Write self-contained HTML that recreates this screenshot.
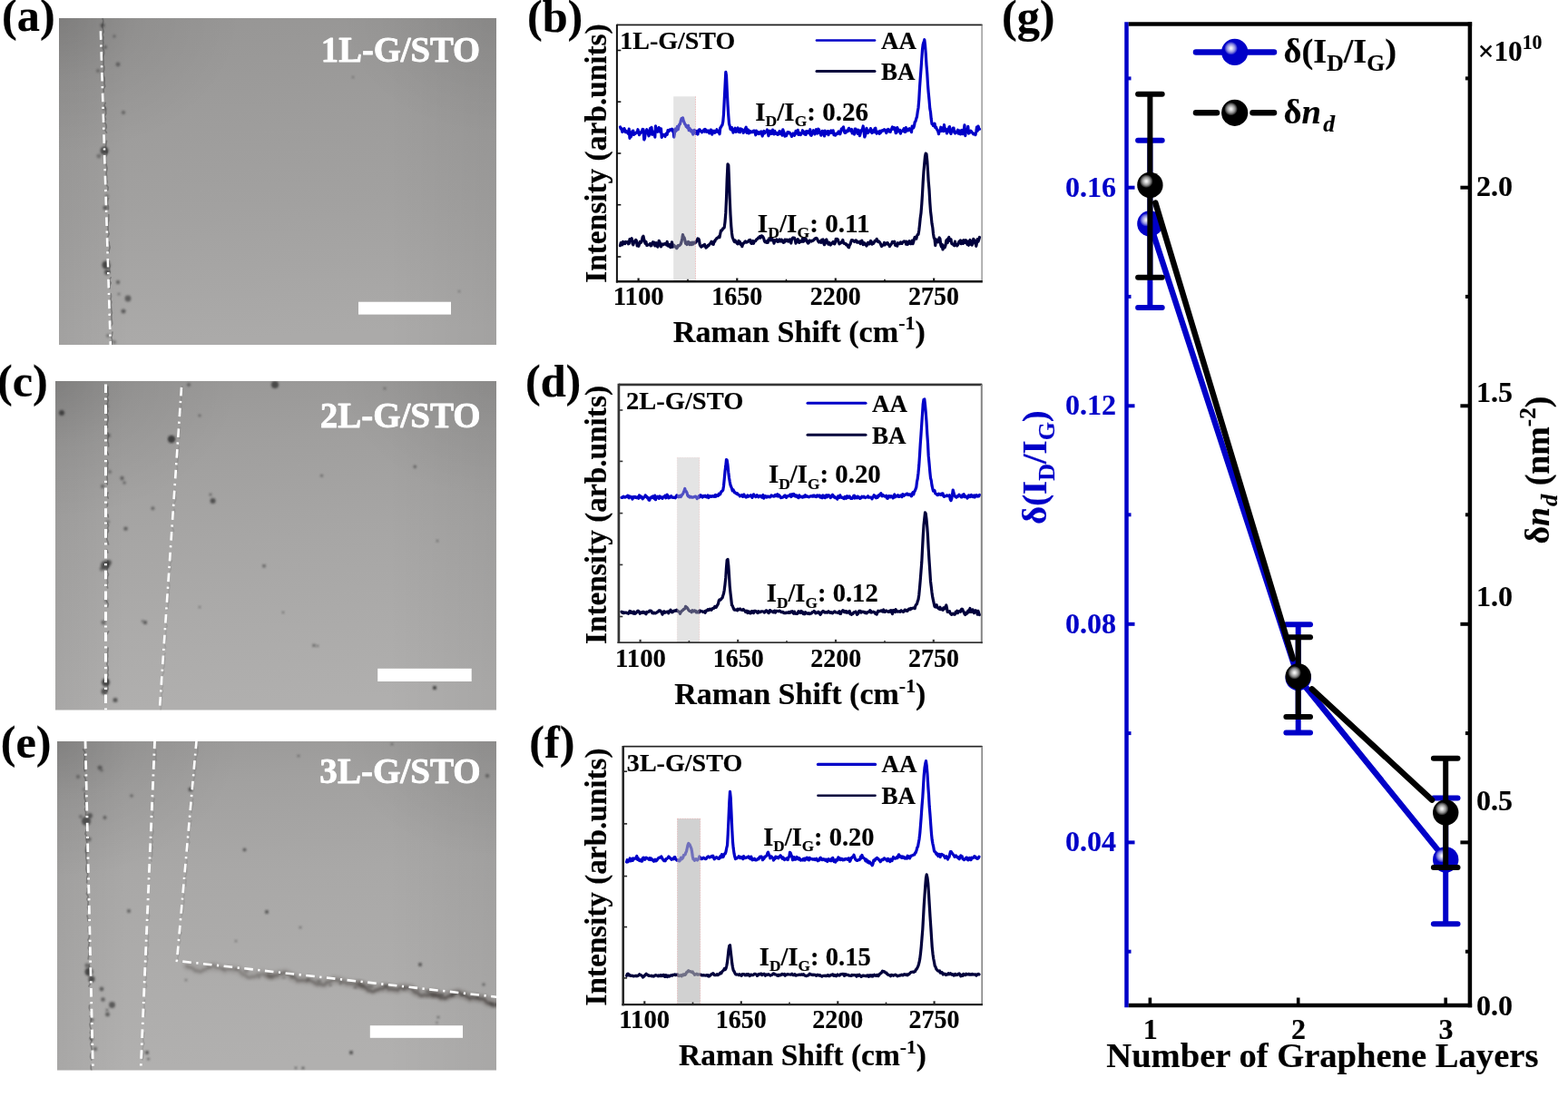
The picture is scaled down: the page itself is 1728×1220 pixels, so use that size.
<!DOCTYPE html>
<html lang="en"><head><meta charset="utf-8"><title>Figure</title>
<style>html,body{margin:0;padding:0;background:#fff;}body{width:1728px;height:1220px;overflow:hidden;}svg{display:block;}text{font-family:"Liberation Serif",serif;font-weight:bold;white-space:pre;stroke-width:0.18px;stroke-linejoin:round;paint-order:stroke fill;}</style>
</head><body>
<svg width="1728" height="1220" viewBox="0 0 1728 1220" role="img" aria-label="Figure: optical micrographs, Raman spectra and defect statistics of graphene on STO">
<defs>
<filter id="blur05" x="-50%" y="-50%" width="200%" height="200%"><feGaussianBlur stdDeviation="0.6"/></filter>
<filter id="blur1" x="-50%" y="-50%" width="200%" height="200%"><feGaussianBlur stdDeviation="0.9"/></filter>
<filter id="blur2" x="-50%" y="-50%" width="200%" height="200%"><feGaussianBlur stdDeviation="1.6"/></filter>
<linearGradient id="mga" x1="0" y1="0" x2="0.06" y2="1"><stop offset="0" stop-color="#979695"/><stop offset="0.3" stop-color="#9d9c9b"/><stop offset="0.6" stop-color="#a2a1a0"/><stop offset="1" stop-color="#abaaa9"/></linearGradient>
<radialGradient id="mca" cx="0" cy="0" r="0.42"><stop offset="0" stop-color="#000" stop-opacity="0.12"/><stop offset="0.45" stop-color="#000" stop-opacity="0.045"/><stop offset="1" stop-color="#000" stop-opacity="0"/></radialGradient>
<radialGradient id="mda" cx="1" cy="0" r="0.36"><stop offset="0" stop-color="#000" stop-opacity="0.06"/><stop offset="1" stop-color="#000" stop-opacity="0"/></radialGradient>
<linearGradient id="mva" x1="0" y1="0" x2="1" y2="0"><stop offset="0" stop-color="#000" stop-opacity="0.05"/><stop offset="0.16" stop-color="#000" stop-opacity="0.0"/><stop offset="0.75" stop-color="#000" stop-opacity="0.0"/><stop offset="1" stop-color="#000" stop-opacity="0.05"/></linearGradient>
<linearGradient id="mgc" x1="0" y1="0" x2="0.06" y2="1"><stop offset="0" stop-color="#999897"/><stop offset="0.2" stop-color="#a09f9e"/><stop offset="0.5" stop-color="#a7a6a5"/><stop offset="1" stop-color="#b0afae"/></linearGradient>
<radialGradient id="mcc" cx="0" cy="0" r="0.42"><stop offset="0" stop-color="#000" stop-opacity="0.12"/><stop offset="0.45" stop-color="#000" stop-opacity="0.045"/><stop offset="1" stop-color="#000" stop-opacity="0"/></radialGradient>
<radialGradient id="mdc" cx="1" cy="0" r="0.36"><stop offset="0" stop-color="#000" stop-opacity="0.06"/><stop offset="1" stop-color="#000" stop-opacity="0"/></radialGradient>
<linearGradient id="mvc" x1="0" y1="0" x2="1" y2="0"><stop offset="0" stop-color="#000" stop-opacity="0.05"/><stop offset="0.16" stop-color="#000" stop-opacity="0.0"/><stop offset="0.75" stop-color="#000" stop-opacity="0.0"/><stop offset="1" stop-color="#000" stop-opacity="0.05"/></linearGradient>
<linearGradient id="mge" x1="0" y1="0" x2="0.06" y2="1"><stop offset="0" stop-color="#9b9a99"/><stop offset="0.15" stop-color="#a2a1a0"/><stop offset="0.42" stop-color="#a9a8a7"/><stop offset="1" stop-color="#b1b0af"/></linearGradient>
<radialGradient id="mce" cx="0" cy="0" r="0.42"><stop offset="0" stop-color="#000" stop-opacity="0.12"/><stop offset="0.45" stop-color="#000" stop-opacity="0.045"/><stop offset="1" stop-color="#000" stop-opacity="0"/></radialGradient>
<radialGradient id="mde" cx="1" cy="0" r="0.36"><stop offset="0" stop-color="#000" stop-opacity="0.06"/><stop offset="1" stop-color="#000" stop-opacity="0"/></radialGradient>
<linearGradient id="mve" x1="0" y1="0" x2="1" y2="0"><stop offset="0" stop-color="#000" stop-opacity="0.05"/><stop offset="0.16" stop-color="#000" stop-opacity="0.0"/><stop offset="0.75" stop-color="#000" stop-opacity="0.0"/><stop offset="1" stop-color="#000" stop-opacity="0.05"/></linearGradient>
<clipPath id="clipa"><rect x="65" y="20" width="482" height="360"/></clipPath>
<clipPath id="clipc"><rect x="61" y="420" width="486" height="362.5"/></clipPath>
<clipPath id="clipe"><rect x="63" y="817" width="484" height="362.5"/></clipPath>
<radialGradient id="ballB" cx="0.5" cy="0.5" r="0.5" fx="0.36" fy="0.33"><stop offset="0" stop-color="#ffffff"/><stop offset="0.14" stop-color="#dcdcf6"/><stop offset="0.42" stop-color="#2a2ad0"/><stop offset="0.55" stop-color="#0000c8"/><stop offset="1" stop-color="#0000c8"/></radialGradient>
<radialGradient id="ballK" cx="0.5" cy="0.5" r="0.5" fx="0.36" fy="0.33"><stop offset="0" stop-color="#ffffff"/><stop offset="0.14" stop-color="#d4d4d4"/><stop offset="0.42" stop-color="#303030"/><stop offset="0.55" stop-color="#000"/><stop offset="1" stop-color="#000"/></radialGradient>
<radialGradient id="hlK" cx="0.5" cy="0.5" r="0.5"><stop offset="0" stop-color="#fafafa"/><stop offset="0.22" stop-color="#dedede"/><stop offset="0.62" stop-color="#8a8a8a"/><stop offset="0.85" stop-color="#3c3c3c"/><stop offset="1" stop-color="#000"/></radialGradient>
<radialGradient id="hlB" cx="0.5" cy="0.5" r="0.5"><stop offset="0" stop-color="#fafafe"/><stop offset="0.22" stop-color="#dedef6"/><stop offset="0.62" stop-color="#8a8ae2"/><stop offset="0.85" stop-color="#3c3cd2"/><stop offset="1" stop-color="#0000c8"/></radialGradient>
</defs>
<rect x="0" y="0" width="1728" height="1220" fill="#fff"/>
<text x="2.10" y="34.40" font-size="50.3" fill="#000" stroke="#000" text-anchor="start" >(a)</text>
<text x="580.90" y="35.20" font-size="50.3" fill="#000" stroke="#000" text-anchor="start" >(b)</text>
<text x="-3.00" y="436.50" font-size="50.3" fill="#000" stroke="#000" text-anchor="start" >(c)</text>
<text x="578.90" y="436.60" font-size="50.3" fill="#000" stroke="#000" text-anchor="start" >(d)</text>
<text x="0.80" y="834.50" font-size="50.3" fill="#000" stroke="#000" text-anchor="start" >(e)</text>
<text x="583.20" y="834.60" font-size="50.3" fill="#000" stroke="#000" text-anchor="start" >(f)</text>
<text x="1103.90" y="34.50" font-size="50.3" fill="#000" stroke="#000" text-anchor="start" >(g)</text>
<g>
<rect x="65" y="20" width="482" height="360" fill="url(#mga)"/>
<rect x="65" y="20" width="482" height="360" fill="url(#mva)"/>
<rect x="65" y="20" width="482" height="360" fill="url(#mca)"/>
<rect x="65" y="20" width="482" height="360" fill="url(#mda)"/>
<g clip-path="url(#clipa)">
<path d="M113.0,20.0 L113.8,23.0 L113.3,26.0 L112.5,29.0 L113.5,32.0 L114.2,35.0 L112.7,38.0 L114.0,41.1 L113.5,44.1 L113.9,47.1 L113.1,50.1 L113.4,53.1 L114.5,56.1 L114.7,59.1 L113.8,62.1 L113.9,65.1 L114.2,68.1 L114.0,71.1 L114.8,74.2 L114.6,77.2 L113.7,80.2 L113.8,83.2 L115.1,86.2 L115.2,89.2 L114.9,92.2 L115.8,95.2 L114.1,98.2 L114.3,101.2 M116.1,113.3 L115.0,116.3 L116.5,119.3 L116.6,122.3 L116.8,125.3 L115.1,128.3 L116.5,131.3 L115.3,134.3 L116.9,137.3 L117.2,140.3 L115.9,143.3 L117.5,146.3 M117.5,155.4 L117.0,158.4 L116.5,161.4 L117.2,164.4 L118.0,167.4 L117.6,170.4 L116.5,173.4 L116.6,176.4 L116.8,179.4 L117.4,182.5 L118.0,185.5 L117.5,188.5 L117.1,191.5 L117.6,194.5 L117.5,197.5 L118.1,200.5 L117.3,203.5 L119.3,206.5 L118.8,209.5 M119.5,218.6 L118.6,221.6 L118.4,224.6 L119.4,227.6 L119.4,230.6 M119.8,236.6 L119.8,239.6 L119.8,242.6 L119.0,245.6 L119.0,248.6 L119.1,251.6 L119.1,254.7 L120.2,257.7 L119.0,260.7 M120.1,266.7 L120.4,269.7 L121.2,272.7 L120.3,275.7 L119.7,278.7 M120.5,287.7 L119.9,290.8 L121.0,293.8 L120.5,296.8 L121.2,299.8 M122.1,305.8 L120.4,308.8 L122.2,311.8 L120.9,314.8 L121.0,317.8 M122.3,323.8 L122.5,326.8 L122.0,329.9 L122.9,332.9 L122.3,335.9 L122.6,338.9 L122.9,341.9 L123.4,344.9 L122.9,347.9 L122.9,350.9 L123.4,353.9 L123.7,356.9 L122.0,359.9 M123.9,366.0 L123.5,369.0 L122.8,372.0 L123.7,375.0 L123.2,378.0 L123.5,381.0" fill="none" stroke="#3a3a3a" stroke-width="1.7" opacity="0.38" stroke-linecap="round" stroke-linejoin="round" filter="url(#blur05)"/>
<circle cx="113" cy="28" r="2.5" fill="#2e2e2e" opacity="0.5" filter="url(#blur1)"/>
<circle cx="116" cy="52" r="2" fill="#2e2e2e" opacity="0.45" filter="url(#blur1)"/>
<circle cx="126" cy="40" r="1.8" fill="#2e2e2e" opacity="0.4" filter="url(#blur1)"/>
<circle cx="130" cy="71" r="2.4" fill="#2e2e2e" opacity="0.5" filter="url(#blur1)"/>
<circle cx="108" cy="78" r="2" fill="#2e2e2e" opacity="0.4" filter="url(#blur1)"/>
<circle cx="115" cy="120" r="2" fill="#2e2e2e" opacity="0.35" filter="url(#blur1)"/>
<circle cx="136" cy="124" r="2" fill="#2e2e2e" opacity="0.5" filter="url(#blur1)"/>
<circle cx="115" cy="166" r="4.5" fill="#2e2e2e" opacity="0.75" filter="url(#blur1)"/>
<circle cx="109" cy="172" r="2.5" fill="#2e2e2e" opacity="0.4" filter="url(#blur1)"/>
<circle cx="118" cy="216" r="2" fill="#2e2e2e" opacity="0.4" filter="url(#blur1)"/>
<circle cx="116" cy="229" r="2.5" fill="#2e2e2e" opacity="0.6" filter="url(#blur1)"/>
<circle cx="117" cy="292" r="4.5" fill="#2e2e2e" opacity="0.8" filter="url(#blur1)"/>
<circle cx="118" cy="300" r="3" fill="#2e2e2e" opacity="0.7" filter="url(#blur1)"/>
<circle cx="130" cy="311" r="2.2" fill="#2e2e2e" opacity="0.55" filter="url(#blur1)"/>
<circle cx="141" cy="329" r="3.4" fill="#2e2e2e" opacity="0.6" filter="url(#blur1)"/>
<circle cx="136" cy="343" r="2.5" fill="#2e2e2e" opacity="0.6" filter="url(#blur1)"/>
<circle cx="131" cy="324" r="1.6" fill="#2e2e2e" opacity="0.4" filter="url(#blur1)"/>
<circle cx="119" cy="370" r="2" fill="#2e2e2e" opacity="0.4" filter="url(#blur1)"/>
<circle cx="126" cy="377" r="2" fill="#2e2e2e" opacity="0.4" filter="url(#blur1)"/>
<circle cx="389" cy="85" r="1.5" fill="#2e2e2e" opacity="0.3" filter="url(#blur1)"/>
<circle cx="506" cy="321" r="1.5" fill="#2e2e2e" opacity="0.3" filter="url(#blur1)"/>
<path d="M110.9,34.3 L121.8,381.0" fill="none" stroke="#fff" stroke-width="2.6" stroke-dasharray="9.6 5.5 2.2 5.5"/>
</g>
<rect x="395" y="332.7" width="102.0" height="13.9" fill="#fff"/>
<text x="353.86" y="68.30" font-size="40" fill="#fff" stroke="#fff" textLength="175.28" lengthAdjust="spacingAndGlyphs" style="stroke-width:0.8px">1L-G/STO</text>
</g>
<g>
<rect x="61" y="420" width="486" height="362.5" fill="url(#mgc)"/>
<rect x="61" y="420" width="486" height="362.5" fill="url(#mvc)"/>
<rect x="61" y="420" width="486" height="362.5" fill="url(#mcc)"/>
<rect x="61" y="420" width="486" height="362.5" fill="url(#mdc)"/>
<g clip-path="url(#clipc)">
<path d="M118.9,426.0 L118.9,429.0 L118.8,432.0 L119.5,435.0 L118.2,438.0 L119.3,441.0 L118.6,444.0 L118.1,447.0 L118.0,450.0 L119.0,453.0 L117.9,456.0 L119.1,459.0 L119.2,462.0 L118.5,465.0 L118.1,468.0 L118.6,471.0 M119.0,477.0 L119.6,480.0 L119.0,483.0 L118.5,486.0 L119.5,489.0 L119.6,492.0 M118.0,498.0 L119.4,501.0 M118.1,507.0 L119.0,510.0 L118.5,513.0 L118.7,516.0 L117.9,519.0 L118.0,522.0 L118.0,525.0 L118.3,528.0 L118.2,531.0 L118.3,534.0 M119.0,543.0 L117.9,546.0 L119.3,549.0 M118.6,555.0 L118.3,558.0 M119.0,567.0 L119.4,570.0 M117.8,576.0 L119.6,579.0 L118.6,582.0 L119.5,585.0 L118.0,588.0 L118.2,591.0 L117.7,594.0 L118.8,597.0 L119.6,600.0 M117.8,606.0 L118.8,609.0 M118.8,618.0 L119.1,621.0 L119.2,624.0 L118.0,627.0 L118.1,630.0 L119.5,633.0 L118.4,636.0 L118.4,639.0 L118.7,642.0 L117.9,645.0 L118.7,648.0 M117.8,663.0 L119.4,666.0 L118.6,669.0 M119.6,696.0 L117.7,699.0 M119.1,714.0 L118.9,717.0 L118.5,720.0 L118.8,723.0 L118.3,726.0 L118.7,729.0 L117.9,732.0 L119.1,735.0 L119.3,738.0 L118.6,741.0 L119.4,744.0 L118.3,747.0 L119.3,750.0 L119.0,753.0 L118.5,756.0 L119.4,759.0 L117.7,762.0" fill="none" stroke="#3a3a3a" stroke-width="1.7" opacity="0.4" stroke-linecap="round" stroke-linejoin="round" filter="url(#blur05)"/><path d="M200.7,426.0 L201.3,429.0 M199.9,435.0 L199.9,438.0 L199.7,441.0 L199.3,444.0 L199.7,447.0 L199.5,450.0 L200.1,453.0 M198.7,471.0 L198.0,474.0 L197.7,477.0 L196.9,480.0 L198.1,483.0 M197.3,492.0 L196.8,495.0 L197.1,498.0 L195.4,501.0 L196.3,504.0 L196.0,507.0 L195.4,510.0 L195.2,513.0 L195.4,516.0 L195.4,519.0 M192.8,540.0 L194.2,543.0 L193.1,546.0 L193.8,549.0 L193.3,552.0 L192.1,555.0 M192.1,561.0 L192.6,564.0 M190.3,582.0 L191.6,585.0 L189.6,588.0 M189.3,618.0 L187.8,621.0 L187.6,624.0 L188.3,627.0 L187.1,630.0 M186.2,642.0 L186.9,645.0 L186.8,648.0 L186.1,651.0 L186.3,654.0 L185.6,657.0 L185.9,660.0 L186.3,663.0 L185.2,666.0 L185.2,669.0 L184.0,672.0 M183.8,684.0 L183.0,687.0 L184.3,690.0 L182.4,693.0 L182.9,696.0 L182.5,699.0 L183.4,702.0 L182.9,705.0 L181.9,708.0 L181.7,711.0 L182.7,714.0 M182.1,720.0 L180.8,723.0 L181.7,726.0 L181.1,729.0 L181.2,732.0 L180.9,735.0 L179.6,738.0 L180.6,741.0 L179.1,744.0 L179.0,747.0 L178.8,750.0 M179.6,756.0 L178.4,759.0 L179.4,762.0 L178.0,765.0 L178.4,768.0 L177.4,771.0 L177.7,774.0 L177.8,777.0 L177.4,780.0 L177.1,783.0" fill="none" stroke="#3a3a3a" stroke-width="1.7" opacity="0.12" stroke-linecap="round" stroke-linejoin="round" filter="url(#blur05)"/>
<circle cx="68" cy="455" r="3" fill="#2e2e2e" opacity="0.8" filter="url(#blur1)"/>
<circle cx="189" cy="484" r="4.2" fill="#2e2e2e" opacity="0.85" filter="url(#blur1)"/>
<circle cx="303" cy="424" r="4" fill="#2e2e2e" opacity="0.75" filter="url(#blur1)"/>
<circle cx="234.6" cy="552" r="3" fill="#2e2e2e" opacity="0.7" filter="url(#blur1)"/>
<circle cx="232" cy="545" r="1.6" fill="#2e2e2e" opacity="0.5" filter="url(#blur1)"/>
<circle cx="134.5" cy="527" r="2.2" fill="#2e2e2e" opacity="0.55" filter="url(#blur1)"/>
<circle cx="137" cy="532" r="1.8" fill="#2e2e2e" opacity="0.5" filter="url(#blur1)"/>
<circle cx="138.5" cy="582.6" r="2.2" fill="#2e2e2e" opacity="0.6" filter="url(#blur1)"/>
<circle cx="168.4" cy="560.3" r="2" fill="#2e2e2e" opacity="0.5" filter="url(#blur1)"/>
<circle cx="116" cy="623" r="5" fill="#2e2e2e" opacity="0.7" filter="url(#blur1)"/>
<circle cx="120" cy="620" r="3" fill="#2e2e2e" opacity="0.6" filter="url(#blur1)"/>
<circle cx="112" cy="627" r="2.5" fill="#2e2e2e" opacity="0.4" filter="url(#blur1)"/>
<circle cx="116.5" cy="752" r="4.5" fill="#2e2e2e" opacity="0.8" filter="url(#blur1)"/>
<circle cx="115" cy="762" r="3.5" fill="#2e2e2e" opacity="0.7" filter="url(#blur1)"/>
<circle cx="127" cy="771.4" r="2.5" fill="#2e2e2e" opacity="0.7" filter="url(#blur1)"/>
<circle cx="160" cy="686" r="2.2" fill="#2e2e2e" opacity="0.6" filter="url(#blur1)"/>
<circle cx="157" cy="684.5" r="1.5" fill="#2e2e2e" opacity="0.4" filter="url(#blur1)"/>
<circle cx="291" cy="623.7" r="2" fill="#2e2e2e" opacity="0.5" filter="url(#blur1)"/>
<circle cx="479" cy="758" r="2.2" fill="#2e2e2e" opacity="0.8" filter="url(#blur1)"/>
<circle cx="346" cy="711.4" r="1.8" fill="#2e2e2e" opacity="0.5" filter="url(#blur1)"/>
<circle cx="350" cy="712" r="1.4" fill="#2e2e2e" opacity="0.4" filter="url(#blur1)"/>
<circle cx="457.3" cy="514.4" r="1.8" fill="#2e2e2e" opacity="0.5" filter="url(#blur1)"/>
<circle cx="354.5" cy="524.2" r="1.6" fill="#2e2e2e" opacity="0.45" filter="url(#blur1)"/>
<circle cx="208" cy="424" r="2" fill="#2e2e2e" opacity="0.5" filter="url(#blur1)"/>
<circle cx="120" cy="480" r="2.2" fill="#2e2e2e" opacity="0.4" filter="url(#blur1)"/>
<circle cx="121" cy="520" r="2" fill="#2e2e2e" opacity="0.4" filter="url(#blur1)"/>
<circle cx="118" cy="448" r="2" fill="#2e2e2e" opacity="0.4" filter="url(#blur1)"/>
<circle cx="113" cy="536" r="2.2" fill="#2e2e2e" opacity="0.45" filter="url(#blur1)"/>
<circle cx="119" cy="575" r="2" fill="#2e2e2e" opacity="0.4" filter="url(#blur1)"/>
<circle cx="114" cy="686" r="2.5" fill="#2e2e2e" opacity="0.5" filter="url(#blur1)"/>
<circle cx="117" cy="662" r="2" fill="#2e2e2e" opacity="0.4" filter="url(#blur1)"/>
<circle cx="220" cy="458" r="1.8" fill="#2e2e2e" opacity="0.4" filter="url(#blur1)"/>
<circle cx="482" cy="596" r="1.5" fill="#2e2e2e" opacity="0.4" filter="url(#blur1)"/>
<circle cx="312" cy="675" r="1.4" fill="#2e2e2e" opacity="0.4" filter="url(#blur1)"/>
<circle cx="220" cy="669" r="1.5" fill="#2e2e2e" opacity="0.35" filter="url(#blur1)"/>
<circle cx="424" cy="428" r="1.6" fill="#2e2e2e" opacity="0.4" filter="url(#blur1)"/>
<path d="M116.5,423.5 L116.5,784.0" fill="none" stroke="#fff" stroke-width="3.0" stroke-dasharray="9.6 5.5 2.2 5.5"/>
<path d="M200.0,426.8 L175.8,783.0" fill="none" stroke="#fff" stroke-width="2.6" stroke-dasharray="9.6 5.5 2.2 5.5"/>
</g>
<rect x="416.2" y="736.8" width="103.5" height="14.2" fill="#fff"/>
<text x="352.76" y="470.80" font-size="40" fill="#fff" stroke="#fff" textLength="176.88" lengthAdjust="spacingAndGlyphs" style="stroke-width:0.8px">2L-G/STO</text>
</g>
<g>
<rect x="63" y="817" width="484" height="362.5" fill="url(#mge)"/>
<rect x="63" y="817" width="484" height="362.5" fill="url(#mve)"/>
<rect x="63" y="817" width="484" height="362.5" fill="url(#mce)"/>
<rect x="63" y="817" width="484" height="362.5" fill="url(#mde)"/>
<g clip-path="url(#clipe)">
<path d="M206.0,1064.2 L208.0,1065.2 L210.0,1065.1 L212.0,1065.9 L214.0,1067.0 L216.0,1068.6 L218.0,1068.1 L220.0,1069.2 L222.0,1068.9 L224.0,1067.6 L226.0,1067.5 L228.0,1066.5 L230.0,1065.8 L232.0,1066.2 L234.0,1064.5 L236.0,1064.5 L238.0,1066.4 L240.0,1066.1 L242.0,1066.4 L244.0,1067.2 L246.0,1067.7 L248.0,1068.9 L250.0,1067.7 L252.0,1067.6 L254.0,1068.0 L256.0,1067.8 L258.0,1068.6 L260.0,1068.8 L262.0,1068.7 L264.0,1069.5 L266.0,1071.7 L268.0,1073.2 L270.0,1072.8 L272.0,1074.8 L274.0,1075.6 L276.0,1075.5 L278.0,1074.7 L280.0,1075.3 L282.0,1074.7 L284.0,1073.4 L286.0,1073.8 L288.0,1073.0 L290.0,1072.9 L292.0,1073.7 L294.0,1074.2 L296.0,1074.8 L298.0,1075.5 L300.0,1075.9" fill="none" stroke="#5e5855" stroke-width="10" opacity="0.15" stroke-linecap="round" stroke-linejoin="round" filter="url(#blur2)"/>
<path d="M206.0,1064.8 L208.0,1065.9 L210.0,1066.0 L212.0,1067.1 L214.0,1068.4 L216.0,1070.1 L218.0,1069.7 L220.0,1070.8 L222.0,1070.4 L224.0,1068.8 L226.0,1068.4 L228.0,1067.1 L230.0,1066.0 L232.0,1066.2 L234.0,1064.4 L236.0,1064.4 L238.0,1066.3 L240.0,1066.2 L242.0,1066.6 L244.0,1067.5 L246.0,1068.1 L248.0,1069.3 L250.0,1068.0 L252.0,1067.8 L254.0,1068.1 L256.0,1067.8 L258.0,1068.5 L260.0,1068.8 L262.0,1068.9 L264.0,1069.8 L266.0,1072.3 L268.0,1074.2 L270.0,1074.1 L272.0,1076.3 L274.0,1077.2 L276.0,1077.1 L278.0,1076.2 L280.0,1076.6 L282.0,1075.8 L284.0,1074.3 L286.0,1074.5 L288.0,1073.7 L290.0,1073.5 L292.0,1074.4 L294.0,1074.9 L296.0,1075.5 L298.0,1076.3 L300.0,1076.7" fill="none" stroke="#4a4542" stroke-width="3.6" opacity="0.28" stroke-linecap="round" stroke-linejoin="round" filter="url(#blur1)"/>
<path d="M296.0,1074.7 L298.0,1075.6 L300.0,1074.8 L302.0,1074.6 L304.0,1074.4 L306.0,1074.7 L308.0,1073.1 L310.0,1073.5 L312.0,1073.1 L314.0,1072.3 L316.0,1073.3 L318.0,1074.0 L320.0,1074.9 L322.0,1077.0 L324.0,1076.7 L326.0,1077.6 L328.0,1079.8 L330.0,1079.4 L332.0,1079.3 L334.0,1079.5 L336.0,1079.5 L338.0,1080.4 L340.0,1079.3 L342.0,1079.7 L344.0,1080.8 L346.0,1081.5 L348.0,1082.9 L350.0,1083.5 L352.0,1083.2 L354.0,1083.2 L356.0,1084.1 L358.0,1084.0 L360.0,1081.8 L362.0,1082.1 L364.0,1081.5 L366.0,1080.5 L368.0,1079.5 L370.0,1080.4 L372.0,1080.6 L374.0,1080.4 L376.0,1081.8 L378.0,1081.9 L380.0,1082.3 L382.0,1083.2 L384.0,1083.4 L386.0,1083.6 L388.0,1083.9 L390.0,1084.1 L392.0,1084.3 L394.0,1084.6 L396.0,1085.2 L398.0,1085.7 L400.0,1086.0" fill="none" stroke="#5e5855" stroke-width="10" opacity="0.22" stroke-linecap="round" stroke-linejoin="round" filter="url(#blur2)"/>
<path d="M296.0,1075.5 L298.0,1076.4 L300.0,1075.6 L302.0,1075.3 L304.0,1074.9 L306.0,1074.9 L308.0,1073.1 L310.0,1073.3 L312.0,1072.7 L314.0,1071.8 L316.0,1072.9 L318.0,1073.7 L320.0,1074.9 L322.0,1077.3 L324.0,1077.3 L326.0,1078.4 L328.0,1080.8 L330.0,1080.5 L332.0,1080.3 L334.0,1080.5 L336.0,1080.4 L338.0,1081.2 L340.0,1080.1 L342.0,1080.4 L344.0,1081.7 L346.0,1082.5 L348.0,1084.1 L350.0,1084.8 L352.0,1084.7 L354.0,1084.7 L356.0,1085.5 L358.0,1085.1 L360.0,1082.6 L362.0,1082.6 L364.0,1081.8 L366.0,1080.5 L368.0,1079.3 L370.0,1080.1 L372.0,1080.4 L374.0,1080.2 L376.0,1081.8 L378.0,1082.1 L380.0,1082.6 L382.0,1083.6 L384.0,1083.8 L386.0,1083.9 L388.0,1084.1 L390.0,1084.3 L392.0,1084.5 L394.0,1084.8 L396.0,1085.4 L398.0,1086.2 L400.0,1086.7" fill="none" stroke="#4a4542" stroke-width="3.6" opacity="0.40" stroke-linecap="round" stroke-linejoin="round" filter="url(#blur1)"/>
<path d="M396.0,1084.3 L398.0,1085.6 L400.0,1085.8 L402.0,1086.9 L404.0,1088.2 L406.0,1090.1 L408.0,1089.8 L410.0,1091.0 L412.0,1090.9 L414.0,1089.7 L416.0,1089.8 L418.0,1089.0 L420.0,1088.5 L422.0,1089.1 L424.0,1087.6 L426.0,1087.7 L428.0,1089.5 L430.0,1089.2 L432.0,1089.3 L434.0,1089.8 L436.0,1089.9 L438.0,1090.6 L440.0,1089.1 L442.0,1088.6 L444.0,1088.7 L446.0,1088.3 L448.0,1088.9 L450.0,1089.1 L452.0,1089.0 L454.0,1089.7 L456.0,1091.9 L458.0,1093.4 L460.0,1093.0 L462.0,1095.0 L464.0,1095.9 L466.0,1095.8 L468.0,1095.2 L470.0,1096.0 L472.0,1095.7 L474.0,1094.8 L476.0,1095.6 L478.0,1095.2 L480.0,1095.5" fill="none" stroke="#5e5855" stroke-width="10" opacity="0.29" stroke-linecap="round" stroke-linejoin="round" filter="url(#blur2)"/>
<path d="M396.0,1084.5 L398.0,1086.0 L400.0,1086.4 L402.0,1087.9 L404.0,1089.5 L406.0,1091.6 L408.0,1091.4 L410.0,1092.7 L412.0,1092.5 L414.0,1091.1 L416.0,1090.9 L418.0,1090.0 L420.0,1089.2 L422.0,1089.6 L424.0,1088.0 L426.0,1088.1 L428.0,1090.0 L430.0,1089.7 L432.0,1089.9 L434.0,1090.4 L436.0,1090.5 L438.0,1091.1 L440.0,1089.3 L442.0,1088.6 L444.0,1088.5 L446.0,1088.0 L448.0,1088.5 L450.0,1088.6 L452.0,1088.7 L454.0,1089.7 L456.0,1092.2 L458.0,1094.0 L460.0,1093.8 L462.0,1096.1 L464.0,1097.1 L466.0,1097.1 L468.0,1096.4 L470.0,1097.1 L472.0,1096.7 L474.0,1095.6 L476.0,1096.4 L478.0,1096.1 L480.0,1096.4" fill="none" stroke="#4a4542" stroke-width="3.6" opacity="0.52" stroke-linecap="round" stroke-linejoin="round" filter="url(#blur1)"/>
<path d="M476.0,1095.2 L478.0,1096.0 L480.0,1095.6 L482.0,1096.2 L484.0,1097.1 L486.0,1098.5 L488.0,1097.8 L490.0,1098.8 L492.0,1098.4 L494.0,1097.0 L496.0,1096.8 L498.0,1095.9 L500.0,1095.1 L502.0,1095.6 L504.0,1094.1 L506.0,1094.2 L508.0,1096.2 L510.0,1096.2 L512.0,1096.7 L514.0,1097.8 L516.0,1098.5 L518.0,1099.9 L520.0,1099.0 L522.0,1099.0 L524.0,1099.6 L526.0,1099.5 L528.0,1100.3 L530.0,1100.5 L532.0,1100.4 L534.0,1101.1 L536.0,1103.2 L538.0,1104.5 L540.0,1103.9 L542.0,1105.8 L544.0,1106.4 L546.0,1106.1 L548.0,1105.1" fill="none" stroke="#5e5855" stroke-width="10" opacity="0.34" stroke-linecap="round" stroke-linejoin="round" filter="url(#blur2)"/>
<path d="M476.0,1096.0 L478.0,1096.8 L480.0,1096.5 L482.0,1097.3 L484.0,1098.3 L486.0,1099.8 L488.0,1099.2 L490.0,1100.1 L492.0,1099.5 L494.0,1097.8 L496.0,1097.4 L498.0,1096.1 L500.0,1095.1 L502.0,1095.4 L504.0,1093.7 L506.0,1093.8 L508.0,1096.0 L510.0,1096.1 L512.0,1096.8 L514.0,1098.1 L516.0,1099.0 L518.0,1100.5 L520.0,1099.5 L522.0,1099.5 L524.0,1100.0 L526.0,1099.8 L528.0,1100.6 L530.0,1100.9 L532.0,1100.9 L534.0,1101.8 L536.0,1104.1 L538.0,1105.7 L540.0,1105.4 L542.0,1107.5 L544.0,1108.1 L546.0,1107.8 L548.0,1106.6" fill="none" stroke="#4a4542" stroke-width="3.6" opacity="0.62" stroke-linecap="round" stroke-linejoin="round" filter="url(#blur1)"/>
<ellipse cx="230.0" cy="1066.1" rx="1.9" ry="1.7" fill="#3e3a38" opacity="0.14" filter="url(#blur1)"/>
<ellipse cx="246.0" cy="1068.2" rx="1.6" ry="1.5" fill="#3e3a38" opacity="0.15" filter="url(#blur1)"/>
<ellipse cx="260.6" cy="1067.8" rx="1.7" ry="1.4" fill="#3e3a38" opacity="0.28" filter="url(#blur1)"/>
<ellipse cx="271.2" cy="1070.1" rx="3.1" ry="2.1" fill="#3e3a38" opacity="0.25" filter="url(#blur1)"/>
<ellipse cx="285.4" cy="1077.0" rx="1.6" ry="2.0" fill="#3e3a38" opacity="0.22" filter="url(#blur1)"/>
<ellipse cx="296.2" cy="1072.2" rx="2.3" ry="1.9" fill="#3e3a38" opacity="0.22" filter="url(#blur1)"/>
<ellipse cx="312.8" cy="1077.7" rx="2.4" ry="1.6" fill="#3e3a38" opacity="0.22" filter="url(#blur1)"/>
<ellipse cx="322.6" cy="1075.8" rx="3.2" ry="1.4" fill="#3e3a38" opacity="0.27" filter="url(#blur1)"/>
<ellipse cx="339.2" cy="1079.4" rx="2.2" ry="1.9" fill="#3e3a38" opacity="0.34" filter="url(#blur1)"/>
<ellipse cx="351.4" cy="1081.6" rx="2.8" ry="2.0" fill="#3e3a38" opacity="0.36" filter="url(#blur1)"/>
<ellipse cx="364.1" cy="1085.9" rx="1.8" ry="1.4" fill="#3e3a38" opacity="0.37" filter="url(#blur1)"/>
<ellipse cx="375.1" cy="1083.7" rx="1.6" ry="1.7" fill="#3e3a38" opacity="0.39" filter="url(#blur1)"/>
<ellipse cx="391.5" cy="1088.2" rx="2.3" ry="1.8" fill="#3e3a38" opacity="0.38" filter="url(#blur1)"/>
<ellipse cx="408.1" cy="1087.2" rx="3.6" ry="2.1" fill="#3e3a38" opacity="0.38" filter="url(#blur1)"/>
<ellipse cx="425.7" cy="1086.4" rx="3.3" ry="1.7" fill="#3e3a38" opacity="0.47" filter="url(#blur1)"/>
<ellipse cx="445.4" cy="1090.2" rx="2.5" ry="1.7" fill="#3e3a38" opacity="0.35" filter="url(#blur1)"/>
<ellipse cx="460.4" cy="1091.1" rx="1.8" ry="0.9" fill="#3e3a38" opacity="0.47" filter="url(#blur1)"/>
<ellipse cx="471.1" cy="1092.8" rx="2.5" ry="2.0" fill="#3e3a38" opacity="0.38" filter="url(#blur1)"/>
<ellipse cx="485.9" cy="1096.6" rx="3.7" ry="1.9" fill="#3e3a38" opacity="0.51" filter="url(#blur1)"/>
<ellipse cx="498.5" cy="1097.1" rx="2.4" ry="2.0" fill="#3e3a38" opacity="0.54" filter="url(#blur1)"/>
<ellipse cx="509.5" cy="1096.7" rx="2.1" ry="1.1" fill="#3e3a38" opacity="0.48" filter="url(#blur1)"/>
<ellipse cx="526.2" cy="1099.2" rx="1.5" ry="1.4" fill="#3e3a38" opacity="0.48" filter="url(#blur1)"/>
<ellipse cx="542.5" cy="1105.9" rx="3.2" ry="1.5" fill="#3e3a38" opacity="0.54" filter="url(#blur1)"/><path d="M91.7,826.0 L93.6,829.0 L93.2,832.0 L93.2,835.0 L92.8,838.0 L93.3,841.0 L93.1,844.0 L92.7,847.0 L93.4,850.0 M92.9,856.0 L94.3,859.0 L94.5,862.0 L94.3,865.0 L94.0,868.0 M93.2,874.0 L93.0,877.0 L93.2,880.0 L94.3,883.0 L93.4,886.0 L94.8,889.0 L93.4,892.0 L94.6,895.0 L94.4,898.0 M94.6,907.0 L95.1,910.0 L95.6,913.0 L94.8,916.0 L94.0,919.0 L95.6,922.0 L95.1,925.0 L95.8,928.0 L95.5,931.0 L94.5,934.0 L94.6,937.0 L94.8,940.0 L94.9,943.0 L94.9,946.0 L95.6,949.0 L95.7,952.0 L95.1,955.0 L94.9,958.0 L95.6,961.0 L96.8,964.0 L95.8,967.0 L95.8,970.0 L95.7,973.0 M96.2,979.0 L96.4,982.0 L95.4,985.0 L97.2,988.0 L95.9,991.0 L97.2,994.0 L97.0,997.0 L96.6,1000.0 L97.4,1003.0 M96.1,1009.0 L96.7,1012.0 L97.0,1015.0 M97.5,1021.0 L97.4,1024.0 L97.5,1027.0 L98.3,1030.0 L98.3,1033.0 L97.0,1036.0 L98.3,1039.0 L97.9,1042.0 L97.3,1045.0 L98.7,1048.0 L98.3,1051.0 L97.6,1054.0 L97.2,1057.0 M98.3,1063.0 L98.1,1066.0 L98.2,1069.0 L99.1,1072.0 L99.4,1075.0 M98.5,1081.0 L99.5,1084.0 L97.9,1087.0 M98.5,1108.0 L98.3,1111.0 L99.4,1114.0 M99.1,1120.0 L100.4,1123.0 L100.0,1126.0 L99.0,1129.0 L99.5,1132.0 L100.6,1135.0 L99.4,1138.0 L100.5,1141.0 L99.2,1144.0 L101.1,1147.0 L99.8,1150.0 L100.5,1153.0 L101.0,1156.0 L101.3,1159.0 L99.9,1162.0 L99.6,1165.0 L100.8,1168.0 M100.4,1174.0 L100.2,1177.0 L100.9,1180.0" fill="none" stroke="#3a3a3a" stroke-width="1.7" opacity="0.38" stroke-linecap="round" stroke-linejoin="round" filter="url(#blur05)"/><path d="M171.7,826.0 L171.6,829.0 L172.1,832.0 L171.5,835.0 L172.3,838.0 M170.1,880.0 L169.4,883.0 L169.0,886.0 M169.2,895.0 L168.3,898.0 L169.5,901.0 M167.8,913.0 L169.0,916.0 L168.6,919.0 L167.2,922.0 L167.3,925.0 L168.4,928.0 L166.7,931.0 L168.4,934.0 L167.5,937.0 L167.8,940.0 L167.7,943.0 L165.9,946.0 L167.1,949.0 M165.4,967.0 L165.0,970.0 M163.5,1003.0 L163.7,1006.0 L164.6,1009.0 L163.9,1012.0 L163.8,1015.0 M163.4,1030.0 L163.6,1033.0 L163.0,1036.0 L163.2,1039.0 L163.7,1042.0 L162.5,1045.0 L162.5,1048.0 L163.3,1051.0 L161.6,1054.0 L162.9,1057.0 L161.9,1060.0 L161.7,1063.0 L161.3,1066.0 L160.7,1069.0 L161.3,1072.0 L160.8,1075.0 L161.4,1078.0 L160.1,1081.0 L160.9,1084.0 L161.7,1087.0 L160.3,1090.0 M159.5,1102.0 L159.3,1105.0 L159.0,1108.0 L159.1,1111.0 L160.2,1114.0 L159.4,1117.0 L159.0,1120.0 M159.0,1138.0 L158.4,1141.0 L157.7,1144.0 L158.0,1147.0 L158.8,1150.0 L157.7,1153.0 L157.2,1156.0 L158.5,1159.0 L158.1,1162.0 L157.6,1165.0 L156.9,1168.0" fill="none" stroke="#3a3a3a" stroke-width="1.7" opacity="0.14" stroke-linecap="round" stroke-linejoin="round" filter="url(#blur05)"/><path d="M218.2,823.0 L217.9,826.0 L218.0,829.0 L217.1,832.1 L216.0,835.1 L215.8,838.1 L215.6,841.1 L215.5,844.1 L215.9,847.1 L214.5,850.1 L215.0,853.1 L214.4,856.2 L213.6,859.2 M213.2,865.2 L213.0,868.2 M212.7,880.3 L212.2,883.3 L212.6,886.3 L211.8,889.3 L210.5,892.3 L211.1,895.3 M210.7,904.4 L209.4,907.4 L210.3,910.4 M208.7,916.4 L208.5,919.4 L208.7,922.4 L207.9,925.5 L209.0,928.5 L207.1,931.5 L206.8,934.5 L207.7,937.5 M205.5,946.5 L206.3,949.5 L205.7,952.6 L205.3,955.6 L205.7,958.6 L205.6,961.6 L205.0,964.6 L203.7,967.6 L205.1,970.6 L204.7,973.6 L204.5,976.7 M203.0,985.7 L202.4,988.7 L202.6,991.7 L202.9,994.7 L202.0,997.8 L201.7,1000.8 L201.6,1003.8 L200.7,1006.8 L200.2,1009.8 M200.1,1027.9 L198.6,1030.9 L197.9,1033.9 L198.8,1036.9 L198.0,1039.9 M197.2,1052.0 L195.9,1055.0 L196.2,1058.0" fill="none" stroke="#3a3a3a" stroke-width="1.7" opacity="0.12" stroke-linecap="round" stroke-linejoin="round" filter="url(#blur05)"/>
<circle cx="95" cy="905" r="5" fill="#2e2e2e" opacity="0.7" filter="url(#blur1)"/>
<circle cx="99" cy="899" r="3" fill="#2e2e2e" opacity="0.6" filter="url(#blur1)"/>
<circle cx="89" cy="900" r="2" fill="#2e2e2e" opacity="0.4" filter="url(#blur1)"/>
<circle cx="86" cy="856" r="2" fill="#2e2e2e" opacity="0.45" filter="url(#blur1)"/>
<circle cx="93" cy="870" r="2" fill="#2e2e2e" opacity="0.35" filter="url(#blur1)"/>
<circle cx="110" cy="846" r="2.5" fill="#2e2e2e" opacity="0.55" filter="url(#blur1)"/>
<circle cx="112" cy="849" r="1.8" fill="#2e2e2e" opacity="0.4" filter="url(#blur1)"/>
<circle cx="115.5" cy="901" r="2" fill="#2e2e2e" opacity="0.55" filter="url(#blur1)"/>
<circle cx="145" cy="877" r="1.8" fill="#2e2e2e" opacity="0.5" filter="url(#blur1)"/>
<circle cx="98" cy="925" r="2.5" fill="#2e2e2e" opacity="0.5" filter="url(#blur1)"/>
<circle cx="96" cy="938" r="2" fill="#2e2e2e" opacity="0.5" filter="url(#blur1)"/>
<circle cx="210" cy="870" r="2.5" fill="#2e2e2e" opacity="0.65" filter="url(#blur1)"/>
<circle cx="269.5" cy="936.5" r="2" fill="#2e2e2e" opacity="0.6" filter="url(#blur1)"/>
<circle cx="98" cy="1071" r="4.5" fill="#2e2e2e" opacity="0.8" filter="url(#blur1)"/>
<circle cx="101" cy="1079" r="3.5" fill="#2e2e2e" opacity="0.75" filter="url(#blur1)"/>
<circle cx="96" cy="1064" r="2.5" fill="#2e2e2e" opacity="0.5" filter="url(#blur1)"/>
<circle cx="112" cy="1090" r="2.4" fill="#2e2e2e" opacity="0.6" filter="url(#blur1)"/>
<circle cx="113.5" cy="1101.5" r="2.2" fill="#2e2e2e" opacity="0.6" filter="url(#blur1)"/>
<circle cx="123.5" cy="1107.5" r="3.4" fill="#2e2e2e" opacity="0.65" filter="url(#blur1)"/>
<circle cx="118.5" cy="1118" r="2.4" fill="#2e2e2e" opacity="0.6" filter="url(#blur1)"/>
<circle cx="118" cy="1113" r="1.6" fill="#2e2e2e" opacity="0.5" filter="url(#blur1)"/>
<circle cx="101.5" cy="1124" r="2" fill="#2e2e2e" opacity="0.5" filter="url(#blur1)"/>
<circle cx="101" cy="1145" r="2" fill="#2e2e2e" opacity="0.5" filter="url(#blur1)"/>
<circle cx="105" cy="1156" r="2.2" fill="#2e2e2e" opacity="0.5" filter="url(#blur1)"/>
<circle cx="142" cy="1004" r="2.2" fill="#2e2e2e" opacity="0.5" filter="url(#blur1)"/>
<circle cx="162" cy="1160" r="2.2" fill="#2e2e2e" opacity="0.6" filter="url(#blur1)"/>
<circle cx="163.5" cy="1167" r="1.6" fill="#2e2e2e" opacity="0.5" filter="url(#blur1)"/>
<circle cx="294" cy="1005" r="2.2" fill="#2e2e2e" opacity="0.6" filter="url(#blur1)"/>
<circle cx="463" cy="1063" r="2.2" fill="#2e2e2e" opacity="0.6" filter="url(#blur1)"/>
<circle cx="387" cy="1160" r="2.2" fill="#2e2e2e" opacity="0.65" filter="url(#blur1)"/>
<circle cx="331" cy="1022" r="1.6" fill="#2e2e2e" opacity="0.4" filter="url(#blur1)"/>
<circle cx="537" cy="855" r="2" fill="#2e2e2e" opacity="0.55" filter="url(#blur1)"/>
<circle cx="432" cy="820" r="1.6" fill="#2e2e2e" opacity="0.4" filter="url(#blur1)"/>
<circle cx="329" cy="833" r="1.6" fill="#2e2e2e" opacity="0.4" filter="url(#blur1)"/>
<circle cx="205" cy="1080" r="1.6" fill="#2e2e2e" opacity="0.35" filter="url(#blur1)"/>
<circle cx="260" cy="1037" r="1.5" fill="#2e2e2e" opacity="0.35" filter="url(#blur1)"/>
<circle cx="483" cy="1121" r="1.6" fill="#2e2e2e" opacity="0.45" filter="url(#blur1)"/>
<circle cx="481.5" cy="1127" r="1.3" fill="#2e2e2e" opacity="0.4" filter="url(#blur1)"/>
<circle cx="334" cy="1177" r="1.6" fill="#2e2e2e" opacity="0.6" filter="url(#blur1)"/>
<circle cx="326" cy="1177" r="1.4" fill="#2e2e2e" opacity="0.5" filter="url(#blur1)"/>
<circle cx="533" cy="1085" r="1.8" fill="#2e2e2e" opacity="0.5" filter="url(#blur1)"/>
<path d="M94.0,815.5 L102.4,1178.0" fill="none" stroke="#fff" stroke-width="2.8" stroke-dasharray="9.6 5.5 2.2 5.5"/>
<path d="M170.6,815.5 L155.0,1181.0" fill="none" stroke="#fff" stroke-width="2.8" stroke-dasharray="9.6 5.5 2.2 5.5"/>
<path d="M216.6,815.5 L194.9,1058.9 L548.0,1098.8" fill="none" stroke="#fff" stroke-width="2.6" stroke-dasharray="9.6 5.5 2.2 5.5"/>
</g>
<rect x="407.8" y="1130.2" width="102.2" height="13.6" fill="#fff"/>
<text x="352.36" y="863.40" font-size="40" fill="#fff" stroke="#fff" textLength="177.28" lengthAdjust="spacingAndGlyphs" style="stroke-width:0.8px">3L-G/STO</text>
</g>
<path d="M683.5,140.0 L684.2,142.1 L685.0,141.7 L685.8,145.5 L686.5,144.2 L687.2,144.5 L688.0,141.6 L688.8,144.4 L689.5,145.7 L690.2,144.5 L691.0,145.0 L691.8,146.6 L692.5,147.4 L693.2,142.1 L694.0,152.3 L694.8,149.3 L695.5,150.4 L696.2,145.9 L697.0,144.4 L697.8,144.1 L698.5,148.5 L699.2,146.5 L700.0,147.4 L700.8,146.5 L701.5,145.7 L702.2,146.1 L703.0,142.7 L703.8,145.7 L704.5,148.6 L705.2,146.1 L706.0,146.6 L706.8,145.2 L707.5,144.3 L708.2,142.4 L709.0,142.8 L709.8,154.0 L710.5,152.6 L711.2,146.9 L712.0,144.9 L712.8,142.7 L713.5,144.8 L714.2,147.2 L715.0,149.8 L715.8,148.2 L716.5,141.5 L717.2,147.2 L718.0,140.3 L718.8,148.3 L719.5,145.8 L720.2,145.1 L721.0,146.4 L721.8,151.1 L722.5,138.8 L723.2,144.8 L724.0,143.9 L724.8,145.2 L725.5,141.6 L726.2,140.5 L727.0,143.5 L727.8,145.7 L728.5,141.8 L729.2,151.5 L730.0,149.5 L730.8,148.5 L731.5,148.9 L732.2,148.5 L733.0,150.5 L733.8,147.9 L734.5,146.9 L735.2,148.3 L736.0,143.7 L736.8,144.8 L737.5,144.4 L738.2,142.9 L739.0,143.1 L739.8,142.9 L740.5,142.2 L741.2,144.6 L742.0,143.3 L742.8,151.1 L743.5,146.4 L744.2,142.1 L745.0,144.5 L745.8,142.4 L746.5,139.3 L747.2,142.8 L748.0,139.6 L748.8,137.1 L749.5,136.6 L750.2,133.2 L751.0,130.7 L751.8,132.8 L752.5,129.9 L753.2,132.8 L754.0,134.8 L754.8,136.9 L755.5,137.5 L756.2,139.4 L757.0,140.0 L757.8,141.1 L758.5,138.3 L759.2,143.7 L760.0,141.4 L760.8,143.5 L761.5,144.7 L762.2,143.4 L763.0,146.2 L763.8,148.0 L764.5,145.8 L765.2,143.4 L766.0,145.2 L766.8,147.3 L767.5,146.2 L768.2,144.4 L769.0,148.0 L769.8,144.1 L770.5,142.8 L771.2,142.9 L772.0,144.5 L772.8,144.8 L773.5,145.9 L774.2,144.5 L775.0,144.1 L775.8,143.0 L776.5,145.2 L777.2,142.5 L778.0,143.7 L778.8,145.4 L779.5,144.6 L780.2,143.9 L781.0,144.7 L781.8,146.9 L782.5,146.6 L783.2,143.0 L784.0,143.3 L784.8,148.2 L785.5,145.5 L786.2,145.0 L787.0,144.3 L787.8,146.3 L788.5,145.8 L789.2,145.0 L790.0,142.7 L790.8,145.4 L791.5,145.4 L792.2,145.3 L793.0,147.8 L793.8,140.8 L794.5,140.3 L795.2,138.6 L796.0,137.8 L796.8,133.9 L797.5,125.8 L798.2,111.1 L799.0,95.5 L799.8,79.3 L800.5,83.3 L801.2,99.0 L802.0,115.2 L802.8,127.6 L803.5,136.2 L804.2,138.7 L805.0,142.4 L805.8,143.0 L806.5,140.6 L807.2,142.3 L808.0,146.2 L808.8,143.1 L809.5,143.3 L810.2,141.2 L811.0,145.4 L811.8,144.2 L812.5,143.2 L813.2,141.0 L814.0,145.4 L814.8,143.9 L815.5,145.8 L816.2,141.9 L817.0,142.2 L817.8,143.5 L818.5,143.2 L819.2,146.5 L820.0,145.2 L820.8,145.0 L821.5,141.7 L822.2,140.2 L823.0,146.4 L823.8,143.8 L824.5,142.9 L825.2,147.0 L826.0,144.3 L826.8,144.5 L827.5,145.9 L828.2,145.2 L829.0,145.7 L829.8,145.4 L830.5,144.1 L831.2,144.2 L832.0,145.9 L832.8,148.8 L833.5,144.1 L834.2,145.6 L835.0,147.2 L835.8,145.6 L836.5,147.5 L837.2,146.5 L838.0,145.7 L838.8,144.9 L839.5,147.8 L840.2,150.0 L841.0,146.1 L841.8,144.5 L842.5,147.0 L843.2,145.4 L844.0,145.4 L844.8,145.0 L845.5,142.9 L846.2,146.8 L847.0,149.7 L847.8,145.2 L848.5,144.2 L849.2,147.4 L850.0,146.2 L850.8,147.2 L851.5,143.1 L852.2,145.6 L853.0,147.9 L853.8,144.4 L854.5,147.3 L855.2,146.2 L856.0,147.3 L856.8,148.4 L857.5,146.7 L858.2,147.8 L859.0,144.6 L859.8,147.3 L860.5,145.1 L861.2,146.2 L862.0,149.2 L862.8,142.8 L863.5,144.9 L864.2,146.3 L865.0,150.1 L865.8,148.2 L866.5,149.7 L867.2,148.1 L868.0,145.5 L868.8,145.6 L869.5,146.4 L870.2,146.2 L871.0,147.8 L871.8,148.4 L872.5,150.4 L873.2,148.0 L874.0,147.0 L874.8,147.7 L875.5,149.3 L876.2,148.0 L877.0,144.5 L877.8,146.9 L878.5,144.7 L879.2,143.3 L880.0,148.4 L880.8,146.3 L881.5,147.1 L882.2,148.6 L883.0,147.2 L883.8,146.9 L884.5,143.7 L885.2,146.3 L886.0,147.1 L886.8,148.0 L887.5,145.2 L888.2,148.5 L889.0,144.5 L889.8,145.6 L890.5,146.3 L891.2,144.6 L892.0,147.0 L892.8,142.7 L893.5,149.1 L894.2,149.3 L895.0,146.9 L895.8,145.6 L896.5,143.7 L897.2,146.4 L898.0,147.9 L898.8,145.8 L899.5,142.7 L900.2,143.8 L901.0,147.0 L901.8,142.2 L902.5,142.7 L903.2,145.9 L904.0,147.0 L904.8,149.2 L905.5,148.1 L906.2,144.3 L907.0,145.4 L907.8,144.7 L908.5,150.0 L909.2,144.0 L910.0,147.8 L910.8,146.2 L911.5,146.5 L912.2,144.6 L913.0,148.7 L913.8,144.8 L914.5,145.2 L915.2,146.4 L916.0,143.9 L916.8,146.3 L917.5,146.3 L918.2,143.9 L919.0,148.7 L919.8,147.2 L920.5,149.2 L921.2,148.0 L922.0,147.1 L922.8,147.6 L923.5,146.5 L924.2,144.9 L925.0,146.8 L925.8,147.8 L926.5,145.6 L927.2,142.2 L928.0,143.1 L928.8,140.9 L929.5,139.9 L930.2,144.4 L931.0,146.4 L931.8,146.4 L932.5,144.2 L933.2,144.9 L934.0,145.0 L934.8,142.7 L935.5,141.3 L936.2,143.9 L937.0,143.5 L937.8,144.3 L938.5,142.5 L939.2,147.0 L940.0,146.7 L940.8,144.9 L941.5,148.0 L942.2,142.0 L943.0,142.0 L943.8,144.0 L944.5,145.6 L945.2,147.4 L946.0,143.2 L946.8,144.6 L947.5,149.7 L948.2,147.1 L949.0,143.7 L949.8,143.8 L950.5,142.0 L951.2,139.0 L952.0,144.7 L952.8,151.0 L953.5,149.4 L954.2,146.5 L955.0,141.3 L955.8,146.3 L956.5,146.5 L957.2,144.6 L958.0,143.8 L958.8,144.7 L959.5,141.6 L960.2,145.3 L961.0,146.5 L961.8,143.9 L962.5,144.0 L963.2,145.6 L964.0,141.8 L964.8,141.1 L965.5,145.9 L966.2,147.2 L967.0,146.4 L967.8,145.2 L968.5,145.1 L969.2,147.4 L970.0,144.4 L970.8,146.0 L971.5,144.2 L972.2,143.7 L973.0,144.1 L973.8,143.3 L974.5,142.7 L975.2,143.8 L976.0,144.9 L976.8,146.5 L977.5,143.2 L978.2,144.6 L979.0,142.4 L979.8,144.9 L980.5,145.0 L981.2,145.4 L982.0,142.6 L982.8,141.7 L983.5,139.9 L984.2,142.3 L985.0,140.7 L985.8,140.8 L986.5,143.4 L987.2,146.7 L988.0,146.0 L988.8,140.6 L989.5,142.3 L990.2,144.7 L991.0,145.0 L991.8,143.3 L992.5,147.2 L993.2,144.3 L994.0,144.5 L994.8,144.5 L995.5,143.3 L996.2,141.7 L997.0,145.5 L997.8,145.5 L998.5,140.5 L999.2,143.6 L1000.0,144.0 L1000.8,144.0 L1001.5,142.3 L1002.2,141.6 L1003.0,142.3 L1003.8,144.1 L1004.5,145.7 L1005.2,139.1 L1006.0,141.1 L1006.8,140.9 L1007.5,138.6 L1008.2,134.6 L1009.0,133.7 L1009.8,130.6 L1010.5,128.6 L1011.2,123.6 L1012.0,119.0 L1012.8,109.6 L1013.5,96.7 L1014.2,86.9 L1015.0,76.3 L1015.8,65.0 L1016.5,54.5 L1017.2,49.0 L1018.0,46.6 L1018.8,43.7 L1019.5,49.4 L1020.2,58.6 L1021.0,71.6 L1021.8,81.4 L1022.5,93.3 L1023.2,102.0 L1024.0,110.1 L1024.8,119.8 L1025.5,123.5 L1026.2,130.8 L1027.0,136.5 L1027.8,136.9 L1028.5,138.7 L1029.2,138.0 L1030.0,136.1 L1030.8,140.6 L1031.5,139.9 L1032.2,142.0 L1033.0,143.3 L1033.8,144.8 L1034.5,147.7 L1035.2,144.4 L1036.0,144.4 L1036.8,140.2 L1037.5,144.5 L1038.2,141.3 L1039.0,140.6 L1039.8,144.6 L1040.5,137.7 L1041.2,142.2 L1042.0,144.2 L1042.8,142.5 L1043.5,146.9 L1044.2,143.0 L1045.0,144.7 L1045.8,140.5 L1046.5,139.6 L1047.2,146.0 L1048.0,147.4 L1048.8,143.1 L1049.5,144.7 L1050.2,141.1 L1051.0,141.0 L1051.8,145.9 L1052.5,147.0 L1053.2,146.4 L1054.0,145.1 L1054.8,145.1 L1055.5,143.2 L1056.2,147.2 L1057.0,144.6 L1057.8,144.0 L1058.5,148.0 L1059.2,144.9 L1060.0,143.5 L1060.8,147.7 L1061.5,143.5 L1062.2,143.8 L1063.0,137.8 L1063.8,149.6 L1064.5,144.4 L1065.2,142.6 L1066.0,145.3 L1066.8,139.4 L1067.5,147.1 L1068.2,146.5 L1069.0,145.8 L1069.8,144.1 L1070.5,144.8 L1071.2,146.0 L1072.0,146.6 L1072.8,148.0 L1073.5,147.8 L1074.2,147.3 L1075.0,148.6 L1075.8,145.0 L1076.5,140.0 L1077.2,144.2 L1078.0,139.0 L1078.8,141.3 L1079.5,142.3" fill="none" stroke="#0000c8" stroke-width="3.2" stroke-linejoin="round" stroke-linecap="round"/>
<path d="M683.5,270.7 L684.2,267.6 L685.0,269.6 L685.8,269.8 L686.5,266.3 L687.2,267.6 L688.0,268.2 L688.8,268.6 L689.5,266.5 L690.2,267.1 L691.0,266.5 L691.8,266.5 L692.5,268.8 L693.2,268.4 L694.0,263.6 L694.8,264.1 L695.5,263.7 L696.2,262.7 L697.0,268.3 L697.8,269.9 L698.5,267.3 L699.2,267.1 L700.0,265.0 L700.8,264.4 L701.5,265.6 L702.2,271.0 L703.0,269.2 L703.8,271.3 L704.5,269.0 L705.2,266.4 L706.0,267.7 L706.8,266.9 L707.5,264.4 L708.2,261.2 L709.0,260.2 L709.8,264.2 L710.5,266.4 L711.2,268.4 L712.0,266.5 L712.8,270.5 L713.5,269.8 L714.2,270.0 L715.0,269.7 L715.8,269.3 L716.5,268.4 L717.2,270.9 L718.0,270.6 L718.8,267.9 L719.5,266.8 L720.2,268.6 L721.0,267.2 L721.8,271.0 L722.5,268.4 L723.2,267.8 L724.0,270.9 L724.8,272.1 L725.5,269.6 L726.2,265.3 L727.0,266.7 L727.8,270.0 L728.5,271.8 L729.2,269.1 L730.0,270.1 L730.8,269.0 L731.5,269.5 L732.2,269.0 L733.0,268.4 L733.8,268.7 L734.5,269.9 L735.2,266.4 L736.0,271.0 L736.8,269.5 L737.5,271.6 L738.2,269.6 L739.0,272.7 L739.8,270.9 L740.5,266.8 L741.2,272.2 L742.0,269.8 L742.8,270.3 L743.5,271.8 L744.2,271.6 L745.0,272.0 L745.8,273.7 L746.5,272.6 L747.2,270.6 L748.0,271.0 L748.8,270.6 L749.5,269.7 L750.2,269.1 L751.0,266.6 L751.8,262.8 L752.5,258.6 L753.2,261.2 L754.0,261.6 L754.8,264.5 L755.5,268.3 L756.2,267.0 L757.0,269.5 L757.8,268.0 L758.5,266.5 L759.2,268.5 L760.0,269.6 L760.8,267.5 L761.5,268.1 L762.2,269.6 L763.0,267.2 L763.8,269.1 L764.5,267.3 L765.2,267.1 L766.0,267.8 L766.8,267.0 L767.5,266.0 L768.2,265.1 L769.0,262.9 L769.8,263.2 L770.5,264.7 L771.2,269.6 L772.0,271.2 L772.8,272.0 L773.5,270.9 L774.2,271.3 L775.0,270.4 L775.8,270.8 L776.5,269.5 L777.2,271.4 L778.0,273.0 L778.8,272.4 L779.5,271.9 L780.2,270.4 L781.0,270.7 L781.8,269.3 L782.5,268.6 L783.2,267.6 L784.0,266.3 L784.8,267.2 L785.5,269.1 L786.2,269.3 L787.0,266.0 L787.8,266.2 L788.5,264.1 L789.2,263.8 L790.0,262.4 L790.8,262.1 L791.5,262.0 L792.2,260.6 L793.0,261.5 L793.8,257.5 L794.5,254.2 L795.2,254.4 L796.0,253.3 L796.8,251.7 L797.5,251.4 L798.2,250.9 L799.0,244.6 L799.8,234.9 L800.5,219.1 L801.2,197.9 L802.0,180.9 L802.8,182.2 L803.5,198.8 L804.2,218.6 L805.0,236.5 L805.8,249.3 L806.5,256.9 L807.2,261.5 L808.0,263.5 L808.8,265.5 L809.5,266.6 L810.2,265.0 L811.0,266.7 L811.8,267.5 L812.5,268.4 L813.2,268.9 L814.0,265.4 L814.8,266.8 L815.5,266.6 L816.2,269.4 L817.0,268.4 L817.8,271.7 L818.5,269.4 L819.2,268.1 L820.0,267.9 L820.8,266.4 L821.5,266.0 L822.2,266.9 L823.0,267.1 L823.8,266.4 L824.5,266.3 L825.2,264.9 L826.0,265.0 L826.8,264.4 L827.5,267.7 L828.2,268.4 L829.0,266.8 L829.8,265.5 L830.5,268.3 L831.2,266.4 L832.0,265.7 L832.8,265.4 L833.5,264.2 L834.2,263.5 L835.0,263.3 L835.8,261.8 L836.5,261.9 L837.2,260.7 L838.0,262.1 L838.8,260.0 L839.5,259.9 L840.2,260.3 L841.0,261.3 L841.8,263.1 L842.5,265.9 L843.2,266.9 L844.0,266.4 L844.8,267.3 L845.5,265.6 L846.2,267.3 L847.0,263.8 L847.8,263.9 L848.5,263.4 L849.2,264.8 L850.0,263.8 L850.8,262.7 L851.5,265.0 L852.2,264.8 L853.0,268.2 L853.8,264.6 L854.5,265.8 L855.2,265.7 L856.0,264.0 L856.8,266.3 L857.5,266.3 L858.2,265.7 L859.0,263.9 L859.8,266.0 L860.5,265.9 L861.2,264.1 L862.0,265.0 L862.8,266.6 L863.5,267.4 L864.2,267.1 L865.0,264.1 L865.8,265.8 L866.5,264.5 L867.2,264.1 L868.0,264.7 L868.8,266.2 L869.5,265.2 L870.2,264.0 L871.0,265.8 L871.8,268.0 L872.5,263.7 L873.2,262.7 L874.0,261.9 L874.8,262.9 L875.5,262.2 L876.2,264.3 L877.0,268.2 L877.8,265.2 L878.5,264.5 L879.2,263.6 L880.0,266.8 L880.8,267.3 L881.5,265.5 L882.2,266.3 L883.0,266.3 L883.8,266.1 L884.5,262.9 L885.2,266.3 L886.0,265.9 L886.8,263.5 L887.5,263.7 L888.2,263.5 L889.0,265.2 L889.8,267.0 L890.5,268.1 L891.2,267.8 L892.0,265.1 L892.8,265.1 L893.5,265.7 L894.2,266.0 L895.0,265.1 L895.8,265.4 L896.5,264.7 L897.2,264.1 L898.0,263.0 L898.8,262.5 L899.5,262.4 L900.2,262.7 L901.0,264.3 L901.8,266.1 L902.5,267.0 L903.2,266.4 L904.0,265.8 L904.8,267.4 L905.5,264.4 L906.2,264.3 L907.0,263.9 L907.8,268.2 L908.5,269.7 L909.2,268.5 L910.0,264.8 L910.8,264.0 L911.5,266.0 L912.2,267.8 L913.0,269.1 L913.8,267.2 L914.5,269.2 L915.2,270.0 L916.0,269.1 L916.8,267.8 L917.5,267.5 L918.2,266.5 L919.0,268.6 L919.8,268.9 L920.5,267.2 L921.2,263.4 L922.0,263.5 L922.8,263.4 L923.5,264.4 L924.2,267.1 L925.0,268.9 L925.8,267.9 L926.5,268.0 L927.2,266.8 L928.0,266.5 L928.8,264.4 L929.5,267.7 L930.2,268.4 L931.0,268.2 L931.8,268.5 L932.5,269.8 L933.2,269.4 L934.0,270.8 L934.8,272.3 L935.5,272.7 L936.2,270.4 L937.0,269.2 L937.8,266.6 L938.5,264.5 L939.2,264.5 L940.0,265.1 L940.8,265.4 L941.5,266.5 L942.2,265.6 L943.0,264.8 L943.8,265.0 L944.5,267.2 L945.2,266.5 L946.0,267.2 L946.8,266.9 L947.5,266.2 L948.2,268.6 L949.0,266.2 L949.8,265.1 L950.5,266.8 L951.2,269.6 L952.0,269.1 L952.8,267.8 L953.5,269.0 L954.2,269.9 L955.0,271.0 L955.8,269.5 L956.5,267.3 L957.2,268.3 L958.0,268.8 L958.8,266.9 L959.5,265.5 L960.2,266.1 L961.0,269.2 L961.8,267.7 L962.5,268.4 L963.2,267.4 L964.0,265.6 L964.8,265.1 L965.5,265.6 L966.2,263.3 L967.0,265.9 L967.8,266.5 L968.5,265.9 L969.2,266.8 L970.0,267.8 L970.8,269.6 L971.5,271.5 L972.2,270.0 L973.0,270.2 L973.8,270.1 L974.5,267.4 L975.2,269.9 L976.0,268.5 L976.8,268.7 L977.5,267.6 L978.2,267.6 L979.0,269.7 L979.8,269.7 L980.5,271.6 L981.2,270.2 L982.0,269.4 L982.8,268.2 L983.5,266.4 L984.2,266.5 L985.0,267.3 L985.8,266.2 L986.5,270.1 L987.2,270.5 L988.0,269.4 L988.8,271.2 L989.5,267.7 L990.2,268.4 L991.0,268.0 L991.8,268.6 L992.5,267.0 L993.2,268.1 L994.0,268.4 L994.8,266.9 L995.5,266.6 L996.2,265.9 L997.0,266.5 L997.8,266.1 L998.5,269.1 L999.2,266.2 L1000.0,269.4 L1000.8,268.9 L1001.5,268.5 L1002.2,265.7 L1003.0,267.9 L1003.8,268.7 L1004.5,267.9 L1005.2,265.1 L1006.0,268.6 L1006.8,266.4 L1007.5,263.5 L1008.2,261.3 L1009.0,262.6 L1009.8,263.1 L1010.5,260.1 L1011.2,258.6 L1012.0,258.4 L1012.8,253.8 L1013.5,247.6 L1014.2,240.5 L1015.0,234.8 L1015.8,224.9 L1016.5,214.0 L1017.2,200.6 L1018.0,188.6 L1018.8,179.7 L1019.5,172.2 L1020.2,169.0 L1021.0,169.9 L1021.8,177.4 L1022.5,188.1 L1023.2,199.6 L1024.0,208.9 L1024.8,223.0 L1025.5,232.6 L1026.2,238.4 L1027.0,246.3 L1027.8,250.7 L1028.5,257.5 L1029.2,261.8 L1030.0,263.5 L1030.8,270.6 L1031.5,263.8 L1032.2,266.5 L1033.0,266.0 L1033.8,266.8 L1034.5,263.8 L1035.2,262.0 L1036.0,263.4 L1036.8,270.0 L1037.5,272.1 L1038.2,269.3 L1039.0,275.0 L1039.8,270.9 L1040.5,271.6 L1041.2,272.8 L1042.0,270.4 L1042.8,265.2 L1043.5,264.3 L1044.2,267.7 L1045.0,263.0 L1045.8,261.5 L1046.5,265.0 L1047.2,265.6 L1048.0,263.8 L1048.8,268.6 L1049.5,268.8 L1050.2,269.2 L1051.0,270.1 L1051.8,270.8 L1052.5,266.2 L1053.2,269.8 L1054.0,269.4 L1054.8,270.9 L1055.5,269.9 L1056.2,268.6 L1057.0,266.1 L1057.8,266.6 L1058.5,264.9 L1059.2,268.7 L1060.0,266.6 L1060.8,265.5 L1061.5,268.4 L1062.2,264.7 L1063.0,267.4 L1063.8,267.1 L1064.5,264.7 L1065.2,267.1 L1066.0,269.4 L1066.8,266.1 L1067.5,270.3 L1068.2,266.5 L1069.0,264.5 L1069.8,265.6 L1070.5,269.6 L1071.2,270.0 L1072.0,268.7 L1072.8,263.3 L1073.5,266.6 L1074.2,265.0 L1075.0,266.5 L1075.8,271.3 L1076.5,267.6 L1077.2,263.7 L1078.0,266.2 L1078.8,263.9 L1079.5,261.5" fill="none" stroke="#00003c" stroke-width="3.2" stroke-linejoin="round" stroke-linecap="round"/>
<rect x="742.2" y="106.3" width="24.4" height="204.0" fill="#bebebe" opacity="0.42"/>
<line x1="766.6" y1="106.3" x2="766.6" y2="310.3" stroke="#f08080" stroke-width="0.8" stroke-dasharray="1.5 1.2" opacity="0.6"/>
<line x1="679.9" y1="26.2" x2="1082.1" y2="26.2" stroke="#d0d0d0" stroke-width="1.0"/>
<line x1="679.9" y1="27.5" x2="1082.6999999999998" y2="27.5" stroke="#111" stroke-width="1.4"/>
<line x1="1082.1" y1="27.5" x2="1082.1" y2="311.3" stroke="#8a8a8a" stroke-width="1.3"/>
<line x1="679.9" y1="26.8" x2="679.9" y2="311.6" stroke="#111" stroke-width="2.0"/>
<line x1="678.9" y1="310.3" x2="1082.75" y2="310.3" stroke="#111" stroke-width="2.6"/>
<line x1="703.6" y1="310.3" x2="703.6" y2="306.5" stroke="#111" stroke-width="2.2"/>
<line x1="812.3" y1="310.3" x2="812.3" y2="306.5" stroke="#111" stroke-width="2.2"/>
<line x1="920.8" y1="310.3" x2="920.8" y2="306.5" stroke="#111" stroke-width="2.2"/>
<line x1="1029.2" y1="310.3" x2="1029.2" y2="306.5" stroke="#111" stroke-width="2.2"/>
<line x1="758" y1="310.3" x2="758" y2="307.7" stroke="#111" stroke-width="1.6"/>
<line x1="866.5" y1="310.3" x2="866.5" y2="307.7" stroke="#111" stroke-width="1.6"/>
<line x1="975" y1="310.3" x2="975" y2="307.7" stroke="#111" stroke-width="1.6"/>
<line x1="679.9" y1="55.5" x2="684.3" y2="55.5" stroke="#111" stroke-width="1.6"/>
<line x1="679.9" y1="112.2" x2="684.3" y2="112.2" stroke="#111" stroke-width="1.6"/>
<line x1="679.9" y1="169" x2="684.3" y2="169" stroke="#111" stroke-width="1.6"/>
<line x1="679.9" y1="225.7" x2="684.3" y2="225.7" stroke="#111" stroke-width="1.6"/>
<line x1="679.9" y1="283" x2="684.3" y2="283" stroke="#111" stroke-width="1.6"/>
<text x="675.74" y="336.20" font-size="28.6" fill="#000" stroke="#000" textLength="55.92" lengthAdjust="spacingAndGlyphs" >1100</text>
<text x="784.34" y="336.20" font-size="28.6" fill="#000" stroke="#000" textLength="55.92" lengthAdjust="spacingAndGlyphs" >1650</text>
<text x="892.74" y="336.20" font-size="28.6" fill="#000" stroke="#000" textLength="55.92" lengthAdjust="spacingAndGlyphs" >2200</text>
<text x="1001.04" y="336.20" font-size="28.6" fill="#000" stroke="#000" textLength="55.92" lengthAdjust="spacingAndGlyphs" >2750</text>
<text x="741.85" y="377.20" font-size="34.2" fill="#000" stroke="#000" textLength="277.99" lengthAdjust="spacingAndGlyphs" >Raman Shift (cm<tspan font-size="22" dy="-13.8">-1</tspan><tspan dy="13.8">)</tspan></text>
<text transform="translate(668.10,311.84) rotate(-90)" font-size="33.5" fill="#000" stroke="#000" textLength="285.57" lengthAdjust="spacingAndGlyphs">Intensity (arb.units)</text>
<text x="683.25" y="53.80" font-size="28.0" fill="#000" stroke="#000" textLength="127.00" lengthAdjust="spacingAndGlyphs" >1L-G/STO</text>
<line x1="900" y1="44.5" x2="964" y2="44.5" stroke="#0000c8" stroke-width="2.7" stroke-linecap="round"/>
<line x1="900" y1="78.4" x2="964" y2="78.4" stroke="#00003c" stroke-width="3.0" stroke-linecap="round"/>
<text x="971.00" y="53.90" font-size="27" fill="#000" stroke="#000" text-anchor="start" style="font-kerning:none">AA</text>
<text x="971.00" y="87.80" font-size="27" fill="#000" stroke="#000" text-anchor="start" style="font-kerning:none">BA</text>
<text x="832.34" y="132.60" font-size="28.6" fill="#000" stroke="#000" textLength="124.62" lengthAdjust="spacingAndGlyphs" >I<tspan font-size="17.3" dy="6.5">D</tspan><tspan dy="-6.5">/I</tspan><tspan font-size="17.3" dy="6.5">G</tspan><tspan dy="-6.5">: 0.26</tspan></text>
<text x="834.84" y="255.90" font-size="28.6" fill="#000" stroke="#000" textLength="123.82" lengthAdjust="spacingAndGlyphs" >I<tspan font-size="17.3" dy="6.5">D</tspan><tspan dy="-6.5">/I</tspan><tspan font-size="17.3" dy="6.5">G</tspan><tspan dy="-6.5">: 0.11</tspan></text>
<path d="M685.0,548.3 L685.8,548.4 L686.5,547.5 L687.2,547.1 L688.0,548.0 L688.8,548.2 L689.5,547.8 L690.2,547.1 L691.0,547.4 L691.8,546.1 L692.5,548.1 L693.2,548.7 L694.0,546.9 L694.8,547.8 L695.5,548.2 L696.2,547.8 L697.0,550.1 L697.8,548.6 L698.5,547.4 L699.2,548.0 L700.0,547.4 L700.8,548.5 L701.5,548.6 L702.2,547.8 L703.0,548.1 L703.8,549.2 L704.5,545.8 L705.2,546.6 L706.0,548.0 L706.8,547.1 L707.5,548.2 L708.2,549.8 L709.0,548.6 L709.8,548.0 L710.5,547.7 L711.2,545.8 L712.0,547.0 L712.8,547.2 L713.5,548.8 L714.2,548.4 L715.0,551.0 L715.8,551.3 L716.5,549.0 L717.2,548.4 L718.0,547.6 L718.8,548.6 L719.5,547.0 L720.2,548.6 L721.0,549.4 L721.8,546.1 L722.5,550.7 L723.2,548.2 L724.0,548.2 L724.8,547.2 L725.5,548.4 L726.2,549.4 L727.0,546.9 L727.8,547.3 L728.5,548.4 L729.2,548.5 L730.0,549.3 L730.8,547.7 L731.5,547.8 L732.2,547.5 L733.0,546.1 L733.8,548.8 L734.5,546.4 L735.2,545.1 L736.0,547.6 L736.8,548.9 L737.5,548.6 L738.2,547.1 L739.0,548.1 L739.8,546.7 L740.5,548.0 L741.2,548.3 L742.0,548.5 L742.8,548.0 L743.5,548.2 L744.2,548.8 L745.0,547.6 L745.8,545.8 L746.5,546.1 L747.2,547.5 L748.0,547.8 L748.8,546.8 L749.5,546.1 L750.2,547.6 L751.0,546.3 L751.8,545.1 L752.5,544.4 L753.2,542.9 L754.0,540.8 L754.8,538.5 L755.5,541.5 L756.2,541.4 L757.0,542.9 L757.8,546.1 L758.5,547.0 L759.2,546.7 L760.0,548.0 L760.8,547.6 L761.5,547.4 L762.2,548.1 L763.0,548.2 L763.8,547.9 L764.5,547.9 L765.2,547.5 L766.0,547.1 L766.8,547.1 L767.5,548.2 L768.2,549.6 L769.0,548.0 L769.8,548.4 L770.5,546.4 L771.2,547.8 L772.0,545.7 L772.8,546.8 L773.5,546.4 L774.2,548.0 L775.0,547.5 L775.8,546.4 L776.5,547.0 L777.2,546.3 L778.0,547.5 L778.8,547.9 L779.5,547.9 L780.2,545.9 L781.0,548.5 L781.8,547.1 L782.5,546.7 L783.2,546.8 L784.0,547.4 L784.8,546.8 L785.5,546.5 L786.2,547.2 L787.0,546.4 L787.8,547.3 L788.5,545.5 L789.2,547.0 L790.0,545.9 L790.8,545.9 L791.5,546.3 L792.2,544.2 L793.0,545.1 L793.8,544.6 L794.5,542.5 L795.2,541.5 L796.0,541.3 L796.8,539.9 L797.5,535.7 L798.2,528.3 L799.0,519.4 L799.8,513.3 L800.5,506.5 L801.2,507.2 L802.0,512.6 L802.8,520.7 L803.5,526.4 L804.2,530.6 L805.0,534.7 L805.8,536.6 L806.5,538.3 L807.2,540.9 L808.0,539.6 L808.8,541.2 L809.5,542.8 L810.2,542.7 L811.0,543.6 L811.8,544.3 L812.5,543.8 L813.2,544.9 L814.0,545.2 L814.8,545.6 L815.5,546.9 L816.2,546.3 L817.0,546.3 L817.8,545.5 L818.5,547.4 L819.2,546.1 L820.0,545.0 L820.8,547.2 L821.5,547.0 L822.2,548.1 L823.0,547.8 L823.8,546.0 L824.5,546.4 L825.2,547.1 L826.0,546.3 L826.8,546.4 L827.5,545.8 L828.2,547.5 L829.0,548.4 L829.8,546.7 L830.5,544.8 L831.2,546.1 L832.0,546.3 L832.8,547.6 L833.5,546.5 L834.2,545.6 L835.0,546.7 L835.8,547.8 L836.5,547.4 L837.2,546.3 L838.0,546.6 L838.8,546.5 L839.5,548.2 L840.2,546.7 L841.0,545.5 L841.8,549.1 L842.5,547.5 L843.2,546.6 L844.0,546.8 L844.8,548.0 L845.5,547.7 L846.2,547.0 L847.0,547.7 L847.8,547.3 L848.5,547.9 L849.2,547.4 L850.0,545.9 L850.8,546.3 L851.5,546.8 L852.2,547.0 L853.0,547.2 L853.8,545.9 L854.5,545.4 L855.2,546.6 L856.0,545.9 L856.8,544.6 L857.5,547.0 L858.2,545.4 L859.0,546.1 L859.8,547.2 L860.5,548.6 L861.2,548.3 L862.0,548.4 L862.8,547.7 L863.5,547.8 L864.2,546.6 L865.0,546.0 L865.8,547.3 L866.5,548.4 L867.2,546.7 L868.0,546.9 L868.8,546.6 L869.5,546.6 L870.2,545.7 L871.0,545.0 L871.8,547.5 L872.5,546.8 L873.2,544.6 L874.0,546.1 L874.8,544.5 L875.5,545.1 L876.2,547.0 L877.0,547.1 L877.8,545.9 L878.5,547.5 L879.2,548.1 L880.0,548.6 L880.8,545.9 L881.5,547.3 L882.2,547.7 L883.0,547.2 L883.8,547.9 L884.5,548.2 L885.2,547.0 L886.0,546.7 L886.8,547.6 L887.5,545.7 L888.2,547.2 L889.0,546.7 L889.8,547.5 L890.5,547.2 L891.2,547.8 L892.0,547.7 L892.8,546.9 L893.5,547.0 L894.2,546.6 L895.0,547.1 L895.8,546.3 L896.5,547.1 L897.2,546.0 L898.0,547.2 L898.8,547.3 L899.5,547.6 L900.2,546.0 L901.0,545.9 L901.8,546.9 L902.5,546.7 L903.2,546.0 L904.0,548.1 L904.8,547.9 L905.5,546.6 L906.2,548.8 L907.0,546.0 L907.8,546.4 L908.5,548.2 L909.2,548.6 L910.0,546.1 L910.8,545.7 L911.5,547.8 L912.2,546.6 L913.0,545.7 L913.8,546.0 L914.5,546.9 L915.2,548.5 L916.0,547.9 L916.8,546.2 L917.5,545.2 L918.2,546.3 L919.0,547.9 L919.8,547.4 L920.5,548.6 L921.2,548.3 L922.0,549.2 L922.8,550.0 L923.5,546.9 L924.2,547.5 L925.0,548.3 L925.8,545.8 L926.5,547.8 L927.2,548.4 L928.0,548.2 L928.8,548.7 L929.5,549.2 L930.2,549.5 L931.0,547.4 L931.8,548.3 L932.5,549.2 L933.2,546.9 L934.0,546.8 L934.8,548.4 L935.5,547.5 L936.2,547.0 L937.0,548.8 L937.8,549.4 L938.5,548.9 L939.2,549.3 L940.0,548.0 L940.8,546.4 L941.5,546.2 L942.2,549.0 L943.0,548.1 L943.8,547.4 L944.5,548.8 L945.2,547.1 L946.0,547.4 L946.8,548.2 L947.5,549.3 L948.2,549.2 L949.0,548.6 L949.8,547.2 L950.5,547.8 L951.2,548.1 L952.0,547.1 L952.8,548.0 L953.5,548.6 L954.2,548.2 L955.0,548.0 L955.8,547.5 L956.5,546.7 L957.2,548.2 L958.0,548.0 L958.8,548.1 L959.5,548.3 L960.2,548.2 L961.0,549.8 L961.8,548.0 L962.5,547.2 L963.2,545.6 L964.0,546.9 L964.8,548.2 L965.5,548.8 L966.2,547.0 L967.0,548.4 L967.8,547.3 L968.5,545.6 L969.2,546.2 L970.0,544.7 L970.8,543.6 L971.5,545.1 L972.2,546.8 L973.0,545.4 L973.8,546.3 L974.5,546.8 L975.2,547.2 L976.0,547.0 L976.8,546.1 L977.5,549.0 L978.2,549.3 L979.0,547.4 L979.8,546.5 L980.5,547.0 L981.2,547.9 L982.0,546.6 L982.8,547.5 L983.5,547.6 L984.2,548.9 L985.0,546.4 L985.8,545.0 L986.5,547.8 L987.2,547.2 L988.0,547.0 L988.8,546.2 L989.5,545.7 L990.2,547.3 L991.0,547.4 L991.8,547.0 L992.5,546.0 L993.2,546.8 L994.0,547.6 L994.8,544.6 L995.5,545.6 L996.2,546.3 L997.0,545.2 L997.8,545.2 L998.5,545.1 L999.2,544.1 L1000.0,544.1 L1000.8,545.5 L1001.5,545.4 L1002.2,544.9 L1003.0,544.9 L1003.8,546.1 L1004.5,546.9 L1005.2,544.1 L1006.0,542.7 L1006.8,544.9 L1007.5,541.8 L1008.2,541.2 L1009.0,539.1 L1009.8,536.9 L1010.5,531.0 L1011.2,527.7 L1012.0,521.2 L1012.8,512.5 L1013.5,502.0 L1014.2,490.2 L1015.0,478.9 L1015.8,466.9 L1016.5,456.6 L1017.2,445.6 L1018.0,440.2 L1018.8,440.0 L1019.5,446.0 L1020.2,453.9 L1021.0,464.5 L1021.8,478.3 L1022.5,488.3 L1023.2,502.2 L1024.0,510.3 L1024.8,519.8 L1025.5,526.7 L1026.2,529.1 L1027.0,534.9 L1027.8,538.5 L1028.5,541.1 L1029.2,541.0 L1030.0,540.6 L1030.8,543.9 L1031.5,544.2 L1032.2,544.5 L1033.0,545.7 L1033.8,545.5 L1034.5,544.1 L1035.2,544.9 L1036.0,544.4 L1036.8,545.4 L1037.5,545.0 L1038.2,543.8 L1039.0,543.8 L1039.8,546.7 L1040.5,547.4 L1041.2,546.7 L1042.0,546.5 L1042.8,546.7 L1043.5,545.9 L1044.2,546.0 L1045.0,546.7 L1045.8,546.7 L1046.5,545.7 L1047.2,550.3 L1048.0,551.6 L1048.8,549.6 L1049.5,545.2 L1050.2,540.0 L1051.0,543.0 L1051.8,545.8 L1052.5,547.1 L1053.2,547.7 L1054.0,548.2 L1054.8,547.0 L1055.5,547.3 L1056.2,546.4 L1057.0,545.1 L1057.8,546.6 L1058.5,546.9 L1059.2,548.0 L1060.0,547.9 L1060.8,545.4 L1061.5,545.8 L1062.2,544.7 L1063.0,547.6 L1063.8,546.9 L1064.5,546.8 L1065.2,547.5 L1066.0,549.1 L1066.8,548.1 L1067.5,545.9 L1068.2,546.0 L1069.0,547.6 L1069.8,545.9 L1070.5,545.5 L1071.2,547.3 L1072.0,547.6 L1072.8,547.4 L1073.5,545.9 L1074.2,548.1 L1075.0,546.4 L1075.8,545.5 L1076.5,545.7 L1077.2,547.1 L1078.0,546.6 L1078.8,546.9 L1079.5,545.4" fill="none" stroke="#0000c8" stroke-width="3.2" stroke-linejoin="round" stroke-linecap="round"/>
<path d="M685.0,674.3 L685.8,675.2 L686.5,674.6 L687.2,675.7 L688.0,675.2 L688.8,675.3 L689.5,675.0 L690.2,675.1 L691.0,675.6 L691.8,675.7 L692.5,676.3 L693.2,675.4 L694.0,673.4 L694.8,673.7 L695.5,675.3 L696.2,674.5 L697.0,674.9 L697.8,676.0 L698.5,674.1 L699.2,676.2 L700.0,676.3 L700.8,675.7 L701.5,674.9 L702.2,673.8 L703.0,673.1 L703.8,673.6 L704.5,674.4 L705.2,676.3 L706.0,675.7 L706.8,675.1 L707.5,674.6 L708.2,675.4 L709.0,674.3 L709.8,675.3 L710.5,675.0 L711.2,676.1 L712.0,676.8 L712.8,674.3 L713.5,674.9 L714.2,674.3 L715.0,674.5 L715.8,673.1 L716.5,673.0 L717.2,673.1 L718.0,673.6 L718.8,675.6 L719.5,675.2 L720.2,675.9 L721.0,675.1 L721.8,675.9 L722.5,675.9 L723.2,675.3 L724.0,675.0 L724.8,674.1 L725.5,674.1 L726.2,672.8 L727.0,672.8 L727.8,673.0 L728.5,674.1 L729.2,675.2 L730.0,677.2 L730.8,675.1 L731.5,673.9 L732.2,673.8 L733.0,675.2 L733.8,674.6 L734.5,674.6 L735.2,674.1 L736.0,674.1 L736.8,675.8 L737.5,673.5 L738.2,673.5 L739.0,672.2 L739.8,674.1 L740.5,674.8 L741.2,674.6 L742.0,673.7 L742.8,673.2 L743.5,673.3 L744.2,672.9 L745.0,673.1 L745.8,672.2 L746.5,673.1 L747.2,673.8 L748.0,673.9 L748.8,674.7 L749.5,676.3 L750.2,674.8 L751.0,673.8 L751.8,672.8 L752.5,672.8 L753.2,671.6 L754.0,671.4 L754.8,670.7 L755.5,668.4 L756.2,668.9 L757.0,669.4 L757.8,670.5 L758.5,671.8 L759.2,672.8 L760.0,673.4 L760.8,673.6 L761.5,674.0 L762.2,674.8 L763.0,672.7 L763.8,673.3 L764.5,673.9 L765.2,672.8 L766.0,673.2 L766.8,673.4 L767.5,675.0 L768.2,675.0 L769.0,674.9 L769.8,673.8 L770.5,674.9 L771.2,672.9 L772.0,673.3 L772.8,673.7 L773.5,673.8 L774.2,673.9 L775.0,674.6 L775.8,674.3 L776.5,673.8 L777.2,675.3 L778.0,673.0 L778.8,672.8 L779.5,672.9 L780.2,671.6 L781.0,672.5 L781.8,672.3 L782.5,671.1 L783.2,671.5 L784.0,672.2 L784.8,671.2 L785.5,670.3 L786.2,670.5 L787.0,670.2 L787.8,668.3 L788.5,669.2 L789.2,669.4 L790.0,668.0 L790.8,666.7 L791.5,665.3 L792.2,662.2 L793.0,660.9 L793.8,661.2 L794.5,660.6 L795.2,659.5 L796.0,659.1 L796.8,656.2 L797.5,654.2 L798.2,650.5 L799.0,644.1 L799.8,636.4 L800.5,625.3 L801.2,617.1 L802.0,616.4 L802.8,623.4 L803.5,633.7 L804.2,645.6 L805.0,653.6 L805.8,660.5 L806.5,667.0 L807.2,667.5 L808.0,669.7 L808.8,671.6 L809.5,672.2 L810.2,672.2 L811.0,671.9 L811.8,672.3 L812.5,672.9 L813.2,671.2 L814.0,671.9 L814.8,671.5 L815.5,671.0 L816.2,672.0 L817.0,672.0 L817.8,672.4 L818.5,672.3 L819.2,671.4 L820.0,672.6 L820.8,672.9 L821.5,674.4 L822.2,673.7 L823.0,673.1 L823.8,675.6 L824.5,673.9 L825.2,673.8 L826.0,675.5 L826.8,676.0 L827.5,675.8 L828.2,673.8 L829.0,673.5 L829.8,674.5 L830.5,675.6 L831.2,673.4 L832.0,673.4 L832.8,673.4 L833.5,674.1 L834.2,674.8 L835.0,675.5 L835.8,673.6 L836.5,674.9 L837.2,674.4 L838.0,674.6 L838.8,673.8 L839.5,673.9 L840.2,673.8 L841.0,674.0 L841.8,674.3 L842.5,675.1 L843.2,674.1 L844.0,673.1 L844.8,672.8 L845.5,673.6 L846.2,674.9 L847.0,675.6 L847.8,674.7 L848.5,672.6 L849.2,673.8 L850.0,673.3 L850.8,674.1 L851.5,674.4 L852.2,674.8 L853.0,673.4 L853.8,673.1 L854.5,675.2 L855.2,673.5 L856.0,673.3 L856.8,673.5 L857.5,673.6 L858.2,673.6 L859.0,673.1 L859.8,673.6 L860.5,674.1 L861.2,674.7 L862.0,674.4 L862.8,674.4 L863.5,675.5 L864.2,675.6 L865.0,675.3 L865.8,675.7 L866.5,675.2 L867.2,675.1 L868.0,675.2 L868.8,675.4 L869.5,674.5 L870.2,675.4 L871.0,675.1 L871.8,673.9 L872.5,674.4 L873.2,673.8 L874.0,675.7 L874.8,676.3 L875.5,674.1 L876.2,675.6 L877.0,676.3 L877.8,676.4 L878.5,676.5 L879.2,675.2 L880.0,673.7 L880.8,675.1 L881.5,674.3 L882.2,675.4 L883.0,673.5 L883.8,675.2 L884.5,674.5 L885.2,676.4 L886.0,676.6 L886.8,676.8 L887.5,674.7 L888.2,675.1 L889.0,675.9 L889.8,676.1 L890.5,676.4 L891.2,675.6 L892.0,676.6 L892.8,676.0 L893.5,676.1 L894.2,675.9 L895.0,674.9 L895.8,674.3 L896.5,674.5 L897.2,673.5 L898.0,674.0 L898.8,675.8 L899.5,675.7 L900.2,675.3 L901.0,675.1 L901.8,674.2 L902.5,674.8 L903.2,676.2 L904.0,677.4 L904.8,676.3 L905.5,674.8 L906.2,674.2 L907.0,673.3 L907.8,673.8 L908.5,674.8 L909.2,675.2 L910.0,674.7 L910.8,674.6 L911.5,675.2 L912.2,674.9 L913.0,673.7 L913.8,674.4 L914.5,675.2 L915.2,675.4 L916.0,674.6 L916.8,675.4 L917.5,675.9 L918.2,675.3 L919.0,674.4 L919.8,673.8 L920.5,674.3 L921.2,675.0 L922.0,675.0 L922.8,675.2 L923.5,675.3 L924.2,674.8 L925.0,673.8 L925.8,676.5 L926.5,676.4 L927.2,674.4 L928.0,673.7 L928.8,672.7 L929.5,673.0 L930.2,674.5 L931.0,674.8 L931.8,673.6 L932.5,673.7 L933.2,675.2 L934.0,674.2 L934.8,675.0 L935.5,674.4 L936.2,673.4 L937.0,676.5 L937.8,675.9 L938.5,677.3 L939.2,676.5 L940.0,676.4 L940.8,675.0 L941.5,674.6 L942.2,674.5 L943.0,674.0 L943.8,675.6 L944.5,677.3 L945.2,676.7 L946.0,675.7 L946.8,673.3 L947.5,673.6 L948.2,673.4 L949.0,675.0 L949.8,674.3 L950.5,674.3 L951.2,674.1 L952.0,674.9 L952.8,674.5 L953.5,675.5 L954.2,675.2 L955.0,675.9 L955.8,674.6 L956.5,674.6 L957.2,674.2 L958.0,674.3 L958.8,672.6 L959.5,673.2 L960.2,675.1 L961.0,674.8 L961.8,674.5 L962.5,674.1 L963.2,674.7 L964.0,674.9 L964.8,676.4 L965.5,676.7 L966.2,677.0 L967.0,674.4 L967.8,673.3 L968.5,674.1 L969.2,673.5 L970.0,673.4 L970.8,673.1 L971.5,672.9 L972.2,674.0 L973.0,674.1 L973.8,671.9 L974.5,674.2 L975.2,674.4 L976.0,673.8 L976.8,673.0 L977.5,673.5 L978.2,674.0 L979.0,674.5 L979.8,674.2 L980.5,673.1 L981.2,674.0 L982.0,672.6 L982.8,675.1 L983.5,676.5 L984.2,672.6 L985.0,672.5 L985.8,672.5 L986.5,674.5 L987.2,671.7 L988.0,673.6 L988.8,673.9 L989.5,674.1 L990.2,673.9 L991.0,673.7 L991.8,674.3 L992.5,673.9 L993.2,672.8 L994.0,673.7 L994.8,674.0 L995.5,674.4 L996.2,673.6 L997.0,672.2 L997.8,672.2 L998.5,673.1 L999.2,672.5 L1000.0,673.4 L1000.8,672.0 L1001.5,671.2 L1002.2,671.1 L1003.0,671.7 L1003.8,670.4 L1004.5,671.0 L1005.2,670.5 L1006.0,670.2 L1006.8,670.1 L1007.5,669.8 L1008.2,670.5 L1009.0,667.4 L1009.8,666.2 L1010.5,665.6 L1011.2,662.9 L1012.0,660.7 L1012.8,655.4 L1013.5,647.9 L1014.2,639.8 L1015.0,629.6 L1015.8,619.5 L1016.5,605.6 L1017.2,591.9 L1018.0,579.0 L1018.8,571.4 L1019.5,564.8 L1020.2,566.0 L1021.0,572.3 L1021.8,581.2 L1022.5,591.1 L1023.2,604.8 L1024.0,617.3 L1024.8,629.3 L1025.5,640.4 L1026.2,646.1 L1027.0,652.9 L1027.8,658.4 L1028.5,661.6 L1029.2,664.8 L1030.0,668.5 L1030.8,669.0 L1031.5,668.0 L1032.2,666.6 L1033.0,669.5 L1033.8,670.1 L1034.5,670.6 L1035.2,671.2 L1036.0,669.2 L1036.8,671.7 L1037.5,671.1 L1038.2,671.3 L1039.0,672.2 L1039.8,669.8 L1040.5,671.2 L1041.2,670.5 L1042.0,668.6 L1042.8,667.0 L1043.5,670.1 L1044.2,674.5 L1045.0,674.0 L1045.8,673.9 L1046.5,673.7 L1047.2,675.9 L1048.0,676.8 L1048.8,677.4 L1049.5,676.4 L1050.2,676.2 L1051.0,676.9 L1051.8,677.2 L1052.5,677.1 L1053.2,674.5 L1054.0,675.5 L1054.8,673.2 L1055.5,675.6 L1056.2,674.1 L1057.0,673.7 L1057.8,673.6 L1058.5,674.2 L1059.2,672.0 L1060.0,671.2 L1060.8,671.7 L1061.5,673.6 L1062.2,674.7 L1063.0,676.8 L1063.8,677.5 L1064.5,675.2 L1065.2,676.4 L1066.0,675.8 L1066.8,673.2 L1067.5,674.7 L1068.2,672.6 L1069.0,670.5 L1069.8,674.5 L1070.5,673.4 L1071.2,674.2 L1072.0,671.8 L1072.8,674.4 L1073.5,675.6 L1074.2,673.7 L1075.0,672.8 L1075.8,674.5 L1076.5,673.4 L1077.2,677.1 L1078.0,673.4 L1078.8,675.8 L1079.5,677.6" fill="none" stroke="#00003c" stroke-width="3.2" stroke-linejoin="round" stroke-linecap="round"/>
<rect x="746.2" y="504.2" width="24.6" height="204.0" fill="#bebebe" opacity="0.42"/>
<line x1="746.2" y1="504.2" x2="746.2" y2="708.2" stroke="#f08080" stroke-width="0.8" stroke-dasharray="1.5 1.2" opacity="0.15"/>
<line x1="746.2" y1="504.2" x2="770.8" y2="504.2" stroke="#f08080" stroke-width="0.8" stroke-dasharray="1.5 1.2" opacity="0.15"/>
<line x1="770.8" y1="504.2" x2="770.8" y2="708.2" stroke="#f08080" stroke-width="0.8" stroke-dasharray="1.5 1.2" opacity="0.3"/>
<line x1="681.9" y1="422.7" x2="1081.8" y2="422.7" stroke="#d0d0d0" stroke-width="1.0"/>
<line x1="681.9" y1="424.0" x2="1082.3999999999999" y2="424.0" stroke="#363636" stroke-width="2.5"/>
<line x1="1081.8" y1="424.0" x2="1081.8" y2="709.2" stroke="#858585" stroke-width="2.0"/>
<line x1="681.9" y1="422.75" x2="681.9" y2="709.0500000000001" stroke="#363636" stroke-width="2.7"/>
<line x1="680.55" y1="708.2" x2="1082.8" y2="708.2" stroke="#363636" stroke-width="1.7"/>
<line x1="705.6" y1="708.2" x2="705.6" y2="704.8000000000001" stroke="#363636" stroke-width="2.2"/>
<line x1="813.2" y1="708.2" x2="813.2" y2="704.8000000000001" stroke="#363636" stroke-width="2.2"/>
<line x1="921" y1="708.2" x2="921" y2="704.8000000000001" stroke="#363636" stroke-width="2.2"/>
<line x1="1028.8" y1="708.2" x2="1028.8" y2="704.8000000000001" stroke="#363636" stroke-width="2.2"/>
<line x1="759.4" y1="708.2" x2="759.4" y2="706.0000000000001" stroke="#363636" stroke-width="1.6"/>
<line x1="867" y1="708.2" x2="867" y2="706.0000000000001" stroke="#363636" stroke-width="1.6"/>
<line x1="975" y1="708.2" x2="975" y2="706.0000000000001" stroke="#363636" stroke-width="1.6"/>
<line x1="681.9" y1="452" x2="686.3" y2="452" stroke="#363636" stroke-width="1.6"/>
<line x1="681.9" y1="508.4" x2="686.3" y2="508.4" stroke="#363636" stroke-width="1.6"/>
<line x1="681.9" y1="565.6" x2="686.3" y2="565.6" stroke="#363636" stroke-width="1.6"/>
<line x1="681.9" y1="622.4" x2="686.3" y2="622.4" stroke="#363636" stroke-width="1.6"/>
<line x1="681.9" y1="679.5" x2="686.3" y2="679.5" stroke="#363636" stroke-width="1.6"/>
<text x="678.04" y="734.60" font-size="28.6" fill="#000" stroke="#000" textLength="55.92" lengthAdjust="spacingAndGlyphs" >1100</text>
<text x="785.74" y="734.60" font-size="28.6" fill="#000" stroke="#000" textLength="55.92" lengthAdjust="spacingAndGlyphs" >1650</text>
<text x="893.34" y="734.60" font-size="28.6" fill="#000" stroke="#000" textLength="55.92" lengthAdjust="spacingAndGlyphs" >2200</text>
<text x="1000.94" y="734.60" font-size="28.6" fill="#000" stroke="#000" textLength="55.92" lengthAdjust="spacingAndGlyphs" >2750</text>
<text x="743.25" y="776.30" font-size="34.2" fill="#000" stroke="#000" textLength="277.19" lengthAdjust="spacingAndGlyphs" >Raman Shift (cm<tspan font-size="22" dy="-13.8">-1</tspan><tspan dy="13.8">)</tspan></text>
<text transform="translate(668.10,710.04) rotate(-90)" font-size="33.5" fill="#000" stroke="#000" textLength="285.07" lengthAdjust="spacingAndGlyphs">Intensity (arb.units)</text>
<text x="690.05" y="451.40" font-size="28.0" fill="#000" stroke="#000" textLength="129.30" lengthAdjust="spacingAndGlyphs" >2L-G/STO</text>
<line x1="890" y1="444.3" x2="954" y2="444.3" stroke="#0000c8" stroke-width="3.0" stroke-linecap="round"/>
<line x1="890" y1="479.3" x2="954" y2="479.3" stroke="#00003c" stroke-width="3.0" stroke-linecap="round"/>
<text x="961.00" y="454.10" font-size="27" fill="#000" stroke="#000" text-anchor="start" style="font-kerning:none">AA</text>
<text x="961.00" y="488.50" font-size="27" fill="#000" stroke="#000" text-anchor="start" style="font-kerning:none">BA</text>
<text x="846.94" y="532.00" font-size="28.6" fill="#000" stroke="#000" textLength="123.82" lengthAdjust="spacingAndGlyphs" >I<tspan font-size="17.3" dy="6.5">D</tspan><tspan dy="-6.5">/I</tspan><tspan font-size="17.3" dy="6.5">G</tspan><tspan dy="-6.5">: 0.20</tspan></text>
<text x="844.74" y="663.10" font-size="28.6" fill="#000" stroke="#000" textLength="123.02" lengthAdjust="spacingAndGlyphs" >I<tspan font-size="17.3" dy="6.5">D</tspan><tspan dy="-6.5">/I</tspan><tspan font-size="17.3" dy="6.5">G</tspan><tspan dy="-6.5">: 0.12</tspan></text>
<path d="M690.5,950.0 L691.2,947.7 L692.0,949.8 L692.8,949.1 L693.5,948.0 L694.2,946.0 L695.0,948.9 L695.8,948.4 L696.5,946.4 L697.2,948.4 L698.0,946.0 L698.8,946.2 L699.5,946.6 L700.2,946.0 L701.0,945.2 L701.8,943.5 L702.5,947.3 L703.2,945.8 L704.0,947.9 L704.8,948.7 L705.5,948.7 L706.2,947.3 L707.0,949.2 L707.8,948.9 L708.5,945.5 L709.2,945.2 L710.0,946.2 L710.8,947.2 L711.5,945.3 L712.2,945.2 L713.0,945.8 L713.8,946.1 L714.5,946.3 L715.2,947.3 L716.0,945.6 L716.8,947.5 L717.5,946.0 L718.2,947.0 L719.0,947.3 L719.8,948.7 L720.5,949.2 L721.2,948.2 L722.0,947.2 L722.8,948.9 L723.5,948.4 L724.2,947.6 L725.0,946.4 L725.8,945.5 L726.5,945.1 L727.2,945.2 L728.0,945.1 L728.8,943.9 L729.5,945.3 L730.2,946.8 L731.0,947.8 L731.8,948.6 L732.5,947.9 L733.2,948.8 L734.0,946.7 L734.8,946.6 L735.5,945.7 L736.2,945.2 L737.0,944.0 L737.8,944.9 L738.5,945.6 L739.2,946.3 L740.0,947.4 L740.8,946.5 L741.5,946.1 L742.2,946.7 L743.0,944.8 L743.8,944.6 L744.5,946.8 L745.2,947.3 L746.0,948.1 L746.8,947.6 L747.5,948.1 L748.2,948.8 L749.0,948.8 L749.8,946.9 L750.5,945.2 L751.2,946.8 L752.0,946.1 L752.8,944.9 L753.5,942.3 L754.2,942.3 L755.0,941.9 L755.8,939.6 L756.5,938.2 L757.2,935.1 L758.0,931.4 L758.8,929.4 L759.5,930.6 L760.2,931.0 L761.0,933.2 L761.8,934.9 L762.5,938.2 L763.2,943.3 L764.0,946.8 L764.8,946.8 L765.5,948.3 L766.2,947.5 L767.0,946.6 L767.8,947.2 L768.5,948.0 L769.2,947.0 L770.0,946.5 L770.8,944.0 L771.5,945.0 L772.2,946.2 L773.0,946.6 L773.8,946.4 L774.5,945.6 L775.2,945.2 L776.0,945.8 L776.8,946.2 L777.5,946.7 L778.2,946.5 L779.0,945.5 L779.8,944.2 L780.5,943.9 L781.2,944.4 L782.0,945.0 L782.8,944.4 L783.5,944.5 L784.2,943.4 L785.0,944.2 L785.8,943.3 L786.5,945.3 L787.2,946.8 L788.0,946.0 L788.8,945.7 L789.5,944.7 L790.2,945.0 L791.0,945.4 L791.8,946.5 L792.5,946.4 L793.2,945.3 L794.0,943.3 L794.8,944.9 L795.5,941.6 L796.2,943.2 L797.0,944.5 L797.8,942.4 L798.5,940.9 L799.2,940.9 L800.0,938.6 L800.8,934.3 L801.5,931.6 L802.2,919.6 L803.0,902.1 L803.8,883.6 L804.5,872.3 L805.2,878.9 L806.0,896.2 L806.8,915.1 L807.5,927.6 L808.2,934.8 L809.0,940.6 L809.8,944.3 L810.5,946.6 L811.2,946.0 L812.0,946.0 L812.8,945.0 L813.5,945.0 L814.2,943.6 L815.0,944.7 L815.8,945.6 L816.5,944.4 L817.2,945.0 L818.0,945.1 L818.8,946.7 L819.5,943.6 L820.2,945.3 L821.0,945.7 L821.8,945.1 L822.5,945.4 L823.2,944.7 L824.0,944.4 L824.8,944.0 L825.5,945.6 L826.2,944.8 L827.0,946.6 L827.8,944.1 L828.5,946.2 L829.2,947.8 L830.0,947.5 L830.8,946.9 L831.5,946.3 L832.2,947.7 L833.0,948.0 L833.8,947.7 L834.5,947.1 L835.2,946.3 L836.0,946.9 L836.8,945.3 L837.5,944.1 L838.2,944.8 L839.0,944.0 L839.8,945.2 L840.5,947.7 L841.2,945.7 L842.0,946.3 L842.8,944.1 L843.5,944.1 L844.2,943.6 L845.0,942.9 L845.8,940.3 L846.5,939.1 L847.2,941.4 L848.0,943.0 L848.8,945.8 L849.5,944.6 L850.2,944.0 L851.0,945.1 L851.8,945.5 L852.5,948.0 L853.2,946.5 L854.0,946.6 L854.8,944.1 L855.5,945.0 L856.2,945.4 L857.0,944.7 L857.8,945.9 L858.5,944.5 L859.2,944.5 L860.0,942.8 L860.8,943.8 L861.5,945.2 L862.2,946.3 L863.0,944.8 L863.8,946.2 L864.5,947.6 L865.2,947.0 L866.0,946.3 L866.8,946.8 L867.5,945.8 L868.2,947.6 L869.0,944.8 L869.8,944.0 L870.5,939.3 L871.2,940.1 L872.0,942.4 L872.8,944.0 L873.5,947.8 L874.2,946.9 L875.0,944.6 L875.8,947.2 L876.5,947.1 L877.2,946.9 L878.0,944.5 L878.8,945.1 L879.5,946.1 L880.2,947.1 L881.0,945.8 L881.8,947.4 L882.5,948.2 L883.2,947.7 L884.0,947.4 L884.8,948.0 L885.5,946.4 L886.2,946.1 L887.0,948.1 L887.8,946.3 L888.5,946.0 L889.2,945.1 L890.0,947.1 L890.8,946.2 L891.5,947.9 L892.2,945.4 L893.0,946.8 L893.8,946.5 L894.5,946.8 L895.2,946.7 L896.0,947.3 L896.8,947.1 L897.5,946.6 L898.2,947.6 L899.0,946.9 L899.8,946.3 L900.5,948.0 L901.2,948.8 L902.0,948.2 L902.8,948.1 L903.5,945.7 L904.2,945.2 L905.0,946.4 L905.8,947.7 L906.5,947.7 L907.2,946.7 L908.0,946.9 L908.8,947.9 L909.5,947.3 L910.2,948.5 L911.0,947.1 L911.8,949.5 L912.5,947.1 L913.2,946.7 L914.0,947.6 L914.8,948.6 L915.5,947.2 L916.2,948.7 L917.0,946.0 L917.8,945.4 L918.5,947.9 L919.2,949.5 L920.0,948.5 L920.8,950.0 L921.5,947.5 L922.2,947.7 L923.0,948.0 L923.8,944.8 L924.5,946.6 L925.2,945.6 L926.0,947.6 L926.8,947.5 L927.5,946.4 L928.2,946.5 L929.0,947.9 L929.8,947.1 L930.5,947.6 L931.2,946.8 L932.0,946.4 L932.8,947.0 L933.5,946.9 L934.2,947.3 L935.0,945.8 L935.8,946.0 L936.5,949.3 L937.2,948.3 L938.0,945.7 L938.8,945.6 L939.5,944.3 L940.2,944.4 L941.0,942.2 L941.8,944.5 L942.5,946.8 L943.2,947.6 L944.0,948.2 L944.8,948.4 L945.5,947.9 L946.2,947.7 L947.0,947.6 L947.8,947.0 L948.5,944.2 L949.2,945.7 L950.0,942.5 L950.8,944.9 L951.5,945.2 L952.2,945.9 L953.0,946.6 L953.8,948.8 L954.5,947.1 L955.2,947.8 L956.0,950.2 L956.8,948.9 L957.5,951.1 L958.2,949.6 L959.0,950.5 L959.8,952.1 L960.5,952.5 L961.2,953.7 L962.0,952.1 L962.8,948.1 L963.5,947.9 L964.2,948.3 L965.0,946.4 L965.8,946.6 L966.5,945.4 L967.2,946.1 L968.0,946.6 L968.8,947.9 L969.5,948.5 L970.2,949.7 L971.0,948.7 L971.8,947.4 L972.5,947.6 L973.2,947.6 L974.0,946.2 L974.8,945.8 L975.5,946.6 L976.2,947.2 L977.0,947.7 L977.8,948.7 L978.5,946.4 L979.2,948.4 L980.0,947.9 L980.8,949.5 L981.5,947.0 L982.2,947.2 L983.0,948.7 L983.8,946.3 L984.5,944.5 L985.2,945.6 L986.0,946.1 L986.8,946.1 L987.5,945.7 L988.2,944.7 L989.0,945.5 L989.8,943.2 L990.5,941.8 L991.2,944.3 L992.0,943.3 L992.8,944.3 L993.5,945.2 L994.2,943.9 L995.0,945.3 L995.8,944.2 L996.5,945.1 L997.2,946.1 L998.0,945.1 L998.8,945.9 L999.5,946.1 L1000.2,943.2 L1001.0,944.5 L1001.8,944.0 L1002.5,945.9 L1003.2,944.6 L1004.0,943.1 L1004.8,943.1 L1005.5,942.8 L1006.2,942.4 L1007.0,942.0 L1007.8,941.9 L1008.5,940.0 L1009.2,939.6 L1010.0,937.3 L1010.8,934.0 L1011.5,933.2 L1012.2,929.2 L1013.0,925.0 L1013.8,918.1 L1014.5,909.4 L1015.2,900.3 L1016.0,888.7 L1016.8,878.8 L1017.5,867.2 L1018.2,854.8 L1019.0,846.3 L1019.8,841.4 L1020.5,838.6 L1021.2,843.6 L1022.0,852.8 L1022.8,866.2 L1023.5,876.0 L1024.2,888.5 L1025.0,898.2 L1025.8,909.7 L1026.5,919.0 L1027.2,925.6 L1028.0,930.1 L1028.8,933.7 L1029.5,937.7 L1030.2,938.9 L1031.0,939.1 L1031.8,941.1 L1032.5,942.0 L1033.2,940.9 L1034.0,943.5 L1034.8,942.2 L1035.5,941.5 L1036.2,944.5 L1037.0,941.8 L1037.8,941.3 L1038.5,942.1 L1039.2,942.1 L1040.0,942.8 L1040.8,944.1 L1041.5,945.5 L1042.2,944.4 L1043.0,943.7 L1043.8,945.8 L1044.5,947.0 L1045.2,945.1 L1046.0,944.6 L1046.8,941.2 L1047.5,938.5 L1048.2,938.6 L1049.0,940.0 L1049.8,940.9 L1050.5,942.0 L1051.2,942.6 L1052.0,944.3 L1052.8,943.2 L1053.5,942.9 L1054.2,943.9 L1055.0,944.9 L1055.8,944.6 L1056.5,946.0 L1057.2,946.7 L1058.0,944.4 L1058.8,942.9 L1059.5,944.7 L1060.2,943.8 L1061.0,946.6 L1061.8,946.8 L1062.5,947.5 L1063.2,947.1 L1064.0,946.3 L1064.8,945.2 L1065.5,945.2 L1066.2,947.3 L1067.0,947.8 L1067.8,947.4 L1068.5,945.5 L1069.2,946.2 L1070.0,947.7 L1070.8,945.2 L1071.5,945.8 L1072.2,945.7 L1073.0,944.8 L1073.8,943.6 L1074.5,944.0 L1075.2,945.4 L1076.0,945.1 L1076.8,946.4 L1077.5,946.2 L1078.2,946.0 L1079.0,944.1" fill="none" stroke="#0000c8" stroke-width="3.2" stroke-linejoin="round" stroke-linecap="round"/>
<path d="M690.5,1075.3 L691.2,1073.6 L692.0,1073.1 L692.8,1074.9 L693.5,1074.2 L694.2,1075.1 L695.0,1075.5 L695.8,1075.1 L696.5,1075.5 L697.2,1075.4 L698.0,1075.9 L698.8,1075.7 L699.5,1075.7 L700.2,1075.6 L701.0,1075.2 L701.8,1075.8 L702.5,1075.6 L703.2,1075.3 L704.0,1074.5 L704.8,1073.8 L705.5,1074.5 L706.2,1074.5 L707.0,1075.2 L707.8,1075.7 L708.5,1077.1 L709.2,1076.2 L710.0,1075.9 L710.8,1074.5 L711.5,1073.9 L712.2,1073.2 L713.0,1074.1 L713.8,1074.8 L714.5,1074.7 L715.2,1075.5 L716.0,1075.4 L716.8,1075.3 L717.5,1075.7 L718.2,1075.1 L719.0,1076.0 L719.8,1075.8 L720.5,1076.1 L721.2,1075.1 L722.0,1075.2 L722.8,1074.6 L723.5,1074.9 L724.2,1075.2 L725.0,1075.8 L725.8,1075.0 L726.5,1075.4 L727.2,1075.7 L728.0,1074.6 L728.8,1074.8 L729.5,1075.7 L730.2,1075.3 L731.0,1074.4 L731.8,1074.6 L732.5,1076.4 L733.2,1076.4 L734.0,1074.6 L734.8,1076.1 L735.5,1076.5 L736.2,1075.1 L737.0,1075.6 L737.8,1076.0 L738.5,1075.1 L739.2,1075.2 L740.0,1074.8 L740.8,1075.1 L741.5,1074.3 L742.2,1074.3 L743.0,1074.3 L743.8,1073.8 L744.5,1074.6 L745.2,1074.4 L746.0,1074.2 L746.8,1073.8 L747.5,1075.3 L748.2,1075.6 L749.0,1075.0 L749.8,1075.1 L750.5,1074.7 L751.2,1075.8 L752.0,1074.8 L752.8,1074.0 L753.5,1074.7 L754.2,1073.8 L755.0,1074.4 L755.8,1073.6 L756.5,1071.8 L757.2,1071.5 L758.0,1070.4 L758.8,1069.6 L759.5,1070.6 L760.2,1070.7 L761.0,1070.6 L761.8,1071.2 L762.5,1071.5 L763.2,1070.9 L764.0,1072.5 L764.8,1072.9 L765.5,1074.3 L766.2,1074.0 L767.0,1073.8 L767.8,1073.2 L768.5,1074.1 L769.2,1074.2 L770.0,1073.9 L770.8,1073.8 L771.5,1074.0 L772.2,1074.0 L773.0,1074.8 L773.8,1074.7 L774.5,1075.0 L775.2,1074.6 L776.0,1074.9 L776.8,1075.0 L777.5,1075.1 L778.2,1074.8 L779.0,1074.6 L779.8,1075.6 L780.5,1074.7 L781.2,1076.0 L782.0,1075.7 L782.8,1074.7 L783.5,1074.3 L784.2,1073.4 L785.0,1073.4 L785.8,1072.7 L786.5,1073.4 L787.2,1074.6 L788.0,1074.6 L788.8,1074.6 L789.5,1074.4 L790.2,1073.7 L791.0,1074.6 L791.8,1074.2 L792.5,1073.7 L793.2,1073.0 L794.0,1072.0 L794.8,1072.7 L795.5,1071.3 L796.2,1070.3 L797.0,1069.6 L797.8,1068.7 L798.5,1067.3 L799.2,1068.6 L800.0,1067.3 L800.8,1064.3 L801.5,1060.4 L802.2,1054.0 L803.0,1046.6 L803.8,1042.2 L804.5,1041.6 L805.2,1048.2 L806.0,1054.9 L806.8,1062.1 L807.5,1066.1 L808.2,1069.3 L809.0,1070.5 L809.8,1072.2 L810.5,1073.5 L811.2,1074.1 L812.0,1074.0 L812.8,1073.9 L813.5,1074.2 L814.2,1074.6 L815.0,1073.7 L815.8,1074.3 L816.5,1074.9 L817.2,1075.4 L818.0,1073.6 L818.8,1073.7 L819.5,1073.6 L820.2,1073.8 L821.0,1074.8 L821.8,1074.3 L822.5,1073.8 L823.2,1074.7 L824.0,1073.6 L824.8,1073.7 L825.5,1074.8 L826.2,1075.6 L827.0,1074.3 L827.8,1074.1 L828.5,1074.6 L829.2,1074.6 L830.0,1074.6 L830.8,1073.8 L831.5,1073.3 L832.2,1073.4 L833.0,1073.8 L833.8,1074.1 L834.5,1075.4 L835.2,1075.0 L836.0,1073.7 L836.8,1073.4 L837.5,1073.8 L838.2,1073.2 L839.0,1073.2 L839.8,1074.6 L840.5,1073.7 L841.2,1073.9 L842.0,1073.3 L842.8,1074.3 L843.5,1075.3 L844.2,1074.0 L845.0,1074.4 L845.8,1074.3 L846.5,1073.7 L847.2,1073.9 L848.0,1074.3 L848.8,1075.1 L849.5,1074.9 L850.2,1074.6 L851.0,1074.2 L851.8,1073.2 L852.5,1072.8 L853.2,1073.2 L854.0,1074.0 L854.8,1074.0 L855.5,1074.2 L856.2,1075.0 L857.0,1074.4 L857.8,1075.4 L858.5,1074.4 L859.2,1074.3 L860.0,1074.8 L860.8,1074.4 L861.5,1073.6 L862.2,1073.4 L863.0,1074.1 L863.8,1074.0 L864.5,1073.4 L865.2,1075.3 L866.0,1074.3 L866.8,1074.3 L867.5,1073.6 L868.2,1074.0 L869.0,1073.8 L869.8,1074.0 L870.5,1074.0 L871.2,1074.2 L872.0,1073.9 L872.8,1073.2 L873.5,1074.1 L874.2,1074.6 L875.0,1074.7 L875.8,1073.6 L876.5,1074.5 L877.2,1075.2 L878.0,1074.7 L878.8,1074.7 L879.5,1074.5 L880.2,1074.2 L881.0,1074.0 L881.8,1074.4 L882.5,1074.3 L883.2,1073.8 L884.0,1074.2 L884.8,1074.4 L885.5,1073.6 L886.2,1074.3 L887.0,1075.2 L887.8,1075.3 L888.5,1075.7 L889.2,1075.2 L890.0,1075.2 L890.8,1075.0 L891.5,1074.2 L892.2,1073.2 L893.0,1073.7 L893.8,1074.0 L894.5,1074.3 L895.2,1074.2 L896.0,1074.7 L896.8,1074.2 L897.5,1074.3 L898.2,1074.4 L899.0,1075.0 L899.8,1075.4 L900.5,1074.4 L901.2,1074.3 L902.0,1074.7 L902.8,1075.2 L903.5,1074.6 L904.2,1075.1 L905.0,1075.7 L905.8,1076.2 L906.5,1075.5 L907.2,1075.4 L908.0,1075.3 L908.8,1075.5 L909.5,1075.2 L910.2,1075.7 L911.0,1075.5 L911.8,1074.7 L912.5,1074.5 L913.2,1075.7 L914.0,1075.7 L914.8,1074.8 L915.5,1074.9 L916.2,1074.4 L917.0,1074.2 L917.8,1073.8 L918.5,1075.2 L919.2,1075.3 L920.0,1074.4 L920.8,1075.1 L921.5,1075.7 L922.2,1074.9 L923.0,1073.9 L923.8,1075.0 L924.5,1074.8 L925.2,1075.1 L926.0,1073.9 L926.8,1073.8 L927.5,1073.7 L928.2,1073.4 L929.0,1073.9 L929.8,1073.5 L930.5,1075.4 L931.2,1074.2 L932.0,1073.6 L932.8,1074.6 L933.5,1074.3 L934.2,1074.4 L935.0,1074.6 L935.8,1075.2 L936.5,1075.1 L937.2,1075.4 L938.0,1075.4 L938.8,1074.4 L939.5,1074.9 L940.2,1074.7 L941.0,1074.7 L941.8,1074.7 L942.5,1074.7 L943.2,1075.2 L944.0,1076.0 L944.8,1074.5 L945.5,1074.8 L946.2,1075.3 L947.0,1074.1 L947.8,1075.3 L948.5,1075.5 L949.2,1076.4 L950.0,1075.7 L950.8,1075.1 L951.5,1075.3 L952.2,1075.2 L953.0,1075.5 L953.8,1075.7 L954.5,1075.1 L955.2,1075.7 L956.0,1074.8 L956.8,1074.8 L957.5,1076.3 L958.2,1075.5 L959.0,1074.7 L959.8,1075.8 L960.5,1075.8 L961.2,1074.8 L962.0,1076.0 L962.8,1075.1 L963.5,1074.3 L964.2,1075.0 L965.0,1075.2 L965.8,1075.5 L966.5,1074.3 L967.2,1074.3 L968.0,1075.6 L968.8,1074.6 L969.5,1073.4 L970.2,1072.7 L971.0,1072.5 L971.8,1071.3 L972.5,1070.2 L973.2,1070.8 L974.0,1070.7 L974.8,1070.8 L975.5,1071.8 L976.2,1072.2 L977.0,1072.2 L977.8,1073.6 L978.5,1073.8 L979.2,1074.5 L980.0,1074.7 L980.8,1074.9 L981.5,1075.8 L982.2,1074.4 L983.0,1074.5 L983.8,1074.8 L984.5,1075.4 L985.2,1074.8 L986.0,1074.7 L986.8,1074.2 L987.5,1074.8 L988.2,1074.9 L989.0,1075.8 L989.8,1075.4 L990.5,1075.2 L991.2,1074.9 L992.0,1075.1 L992.8,1074.8 L993.5,1074.2 L994.2,1074.4 L995.0,1074.9 L995.8,1074.3 L996.5,1073.7 L997.2,1074.2 L998.0,1073.9 L998.8,1074.6 L999.5,1073.9 L1000.2,1074.7 L1001.0,1073.7 L1001.8,1073.7 L1002.5,1072.9 L1003.2,1072.2 L1004.0,1071.3 L1004.8,1071.4 L1005.5,1071.1 L1006.2,1071.1 L1007.0,1071.4 L1007.8,1070.8 L1008.5,1070.7 L1009.2,1068.9 L1010.0,1068.3 L1010.8,1066.9 L1011.5,1065.4 L1012.2,1063.7 L1013.0,1060.7 L1013.8,1056.4 L1014.5,1050.8 L1015.2,1043.9 L1016.0,1034.2 L1016.8,1024.3 L1017.5,1012.0 L1018.2,998.8 L1019.0,987.0 L1019.8,975.6 L1020.5,967.2 L1021.2,963.8 L1022.0,967.4 L1022.8,974.0 L1023.5,984.9 L1024.2,996.4 L1025.0,1009.8 L1025.8,1021.6 L1026.5,1032.6 L1027.2,1043.3 L1028.0,1051.2 L1028.8,1056.7 L1029.5,1060.2 L1030.2,1064.3 L1031.0,1065.6 L1031.8,1068.0 L1032.5,1068.7 L1033.2,1069.7 L1034.0,1070.1 L1034.8,1070.2 L1035.5,1070.0 L1036.2,1072.2 L1037.0,1072.1 L1037.8,1071.4 L1038.5,1072.1 L1039.2,1074.0 L1040.0,1073.3 L1040.8,1073.2 L1041.5,1073.4 L1042.2,1074.5 L1043.0,1074.2 L1043.8,1074.1 L1044.5,1073.3 L1045.2,1072.6 L1046.0,1073.8 L1046.8,1073.6 L1047.5,1072.8 L1048.2,1073.4 L1049.0,1074.2 L1049.8,1073.7 L1050.5,1074.7 L1051.2,1075.1 L1052.0,1073.9 L1052.8,1073.4 L1053.5,1074.6 L1054.2,1074.3 L1055.0,1074.4 L1055.8,1073.4 L1056.5,1073.9 L1057.2,1073.0 L1058.0,1074.0 L1058.8,1075.9 L1059.5,1075.4 L1060.2,1074.5 L1061.0,1075.3 L1061.8,1073.4 L1062.5,1074.2 L1063.2,1074.5 L1064.0,1074.7 L1064.8,1073.3 L1065.5,1073.8 L1066.2,1074.0 L1067.0,1073.7 L1067.8,1073.3 L1068.5,1074.2 L1069.2,1073.8 L1070.0,1074.2 L1070.8,1073.8 L1071.5,1073.3 L1072.2,1074.1 L1073.0,1073.8 L1073.8,1074.1 L1074.5,1074.0 L1075.2,1073.8 L1076.0,1075.1 L1076.8,1074.4 L1077.5,1073.7 L1078.2,1073.3 L1079.0,1073.8" fill="none" stroke="#00003c" stroke-width="3.2" stroke-linejoin="round" stroke-linecap="round"/>
<rect x="746.4" y="902.2" width="25.3" height="204.9" fill="#b4b4b4" opacity="0.62"/>
<line x1="746.4" y1="902.2" x2="746.4" y2="1107.1" stroke="#f08080" stroke-width="0.8" stroke-dasharray="1.5 1.2" opacity="0.45"/>
<line x1="746.4" y1="902.2" x2="771.7" y2="902.2" stroke="#f08080" stroke-width="0.8" stroke-dasharray="1.5 1.2" opacity="0.45"/>
<line x1="771.7" y1="902.2" x2="771.7" y2="1107.1" stroke="#f08080" stroke-width="0.8" stroke-dasharray="1.5 1.2" opacity="0.45"/>
<line x1="686.7" y1="821.4000000000001" x2="1082.2" y2="821.4000000000001" stroke="#d0d0d0" stroke-width="1.0"/>
<line x1="686.7" y1="822.7" x2="1082.8" y2="822.7" stroke="#262626" stroke-width="1.6"/>
<line x1="1082.2" y1="822.7" x2="1082.2" y2="1108.1" stroke="#858585" stroke-width="1.6"/>
<line x1="686.7" y1="821.9000000000001" x2="686.7" y2="1108.25" stroke="#262626" stroke-width="2.6"/>
<line x1="685.4000000000001" y1="1107.1" x2="1083.0" y2="1107.1" stroke="#262626" stroke-width="2.3"/>
<line x1="710.3" y1="1107.1" x2="710.3" y2="1103.3" stroke="#262626" stroke-width="2.2"/>
<line x1="816.8" y1="1107.1" x2="816.8" y2="1103.3" stroke="#262626" stroke-width="2.2"/>
<line x1="923.3" y1="1107.1" x2="923.3" y2="1103.3" stroke="#262626" stroke-width="2.2"/>
<line x1="1029.6" y1="1107.1" x2="1029.6" y2="1103.3" stroke="#262626" stroke-width="2.2"/>
<line x1="763.5" y1="1107.1" x2="763.5" y2="1104.5" stroke="#262626" stroke-width="1.6"/>
<line x1="870" y1="1107.1" x2="870" y2="1104.5" stroke="#262626" stroke-width="1.6"/>
<line x1="976.5" y1="1107.1" x2="976.5" y2="1104.5" stroke="#262626" stroke-width="1.6"/>
<line x1="686.7" y1="850.2" x2="691.1" y2="850.2" stroke="#262626" stroke-width="1.6"/>
<line x1="686.7" y1="907.9" x2="691.1" y2="907.9" stroke="#262626" stroke-width="1.6"/>
<line x1="686.7" y1="965.6" x2="691.1" y2="965.6" stroke="#262626" stroke-width="1.6"/>
<line x1="686.7" y1="1021.6" x2="691.1" y2="1021.6" stroke="#262626" stroke-width="1.6"/>
<line x1="686.7" y1="1077.9" x2="691.1" y2="1077.9" stroke="#262626" stroke-width="1.6"/>
<text x="682.34" y="1133.10" font-size="28.6" fill="#000" stroke="#000" textLength="55.92" lengthAdjust="spacingAndGlyphs" >1100</text>
<text x="788.84" y="1133.10" font-size="28.6" fill="#000" stroke="#000" textLength="55.92" lengthAdjust="spacingAndGlyphs" >1650</text>
<text x="895.34" y="1133.10" font-size="28.6" fill="#000" stroke="#000" textLength="55.92" lengthAdjust="spacingAndGlyphs" >2200</text>
<text x="1001.54" y="1133.10" font-size="28.6" fill="#000" stroke="#000" textLength="55.92" lengthAdjust="spacingAndGlyphs" >2750</text>
<text x="748.05" y="1174.30" font-size="34.2" fill="#000" stroke="#000" textLength="272.89" lengthAdjust="spacingAndGlyphs" >Raman Shift (cm<tspan font-size="22" dy="-13.8">-1</tspan><tspan dy="13.8">)</tspan></text>
<text transform="translate(668.10,1108.54) rotate(-90)" font-size="33.5" fill="#000" stroke="#000" textLength="284.07" lengthAdjust="spacingAndGlyphs">Intensity (arb.units)</text>
<text x="690.85" y="849.60" font-size="28.0" fill="#000" stroke="#000" textLength="127.40" lengthAdjust="spacingAndGlyphs" >3L-G/STO</text>
<line x1="901.5" y1="842.4" x2="964.5" y2="842.4" stroke="#0000c8" stroke-width="3.3" stroke-linecap="round"/>
<line x1="901.5" y1="876.7" x2="964.5" y2="876.7" stroke="#00003c" stroke-width="2.6" stroke-linecap="round"/>
<text x="971.50" y="851.40" font-size="27" fill="#000" stroke="#000" text-anchor="start" style="font-kerning:none">AA</text>
<text x="971.50" y="885.90" font-size="27" fill="#000" stroke="#000" text-anchor="start" style="font-kerning:none">BA</text>
<text x="841.24" y="931.50" font-size="28.6" fill="#000" stroke="#000" textLength="122.22" lengthAdjust="spacingAndGlyphs" >I<tspan font-size="17.3" dy="6.5">D</tspan><tspan dy="-6.5">/I</tspan><tspan font-size="17.3" dy="6.5">G</tspan><tspan dy="-6.5">: 0.20</tspan></text>
<text x="836.84" y="1063.50" font-size="28.6" fill="#000" stroke="#000" textLength="123.02" lengthAdjust="spacingAndGlyphs" >I<tspan font-size="17.3" dy="6.5">D</tspan><tspan dy="-6.5">/I</tspan><tspan font-size="17.3" dy="6.5">G</tspan><tspan dy="-6.5">: 0.15</tspan></text>
<line x1="1271.4" y1="258.9" x2="1426.7" y2="734.6" stroke="#0000c8" stroke-width="6.5" stroke-linecap="round"/>
<line x1="1438.9" y1="757.1" x2="1585.0" y2="937.3" stroke="#0000c8" stroke-width="6.5" stroke-linecap="round"/>
<line x1="1267.4" y1="154.7" x2="1267.4" y2="339.0" stroke="#0000c8" stroke-width="6.0"/>
<line x1="1254.1000000000001" y1="154.7" x2="1280.7" y2="154.7" stroke="#0000c8" stroke-width="6.0" stroke-linecap="round"/>
<line x1="1254.1000000000001" y1="339.0" x2="1280.7" y2="339.0" stroke="#0000c8" stroke-width="6.0" stroke-linecap="round"/>
<line x1="1430.7" y1="688.2" x2="1430.7" y2="807.4" stroke="#0000c8" stroke-width="6.0"/>
<line x1="1417.4" y1="688.2" x2="1444.0" y2="688.2" stroke="#0000c8" stroke-width="6.0" stroke-linecap="round"/>
<line x1="1417.4" y1="807.4" x2="1444.0" y2="807.4" stroke="#0000c8" stroke-width="6.0" stroke-linecap="round"/>
<line x1="1593.2" y1="879.5" x2="1593.2" y2="1018.2" stroke="#0000c8" stroke-width="6.0"/>
<line x1="1579.9" y1="879.5" x2="1606.5" y2="879.5" stroke="#0000c8" stroke-width="6.0" stroke-linecap="round"/>
<line x1="1579.9" y1="1018.2" x2="1606.5" y2="1018.2" stroke="#0000c8" stroke-width="6.0" stroke-linecap="round"/>
<circle cx="1267.4" cy="246.5" r="14.2" fill="#0000c8"/>
<circle cx="1263.3000000000002" cy="242.3" r="7.4" fill="url(#hlB)"/>
<circle cx="1430.7" cy="747.0" r="14.2" fill="#0000c8"/>
<circle cx="1426.6000000000001" cy="742.8" r="7.4" fill="url(#hlB)"/>
<circle cx="1593.2" cy="947.4" r="14.2" fill="#0000c8"/>
<circle cx="1589.1000000000001" cy="943.1999999999999" r="7.4" fill="url(#hlB)"/>
<line x1="1273.3" y1="223.5" x2="1424.8" y2="725.9" stroke="#000" stroke-width="6.5" stroke-linecap="round"/>
<line x1="1445.8" y1="759.4" x2="1578.1" y2="881.6" stroke="#000" stroke-width="6.5" stroke-linecap="round"/>
<line x1="1267.4" y1="103.8" x2="1267.4" y2="305.7" stroke="#000" stroke-width="6.0"/>
<line x1="1254.1000000000001" y1="103.8" x2="1280.7" y2="103.8" stroke="#000" stroke-width="6.0" stroke-linecap="round"/>
<line x1="1254.1000000000001" y1="305.7" x2="1280.7" y2="305.7" stroke="#000" stroke-width="6.0" stroke-linecap="round"/>
<line x1="1430.7" y1="702.2" x2="1430.7" y2="790.1" stroke="#000" stroke-width="6.0"/>
<line x1="1417.4" y1="702.2" x2="1444.0" y2="702.2" stroke="#000" stroke-width="6.0" stroke-linecap="round"/>
<line x1="1417.4" y1="790.1" x2="1444.0" y2="790.1" stroke="#000" stroke-width="6.0" stroke-linecap="round"/>
<line x1="1593.2" y1="835.8" x2="1593.2" y2="956.1" stroke="#000" stroke-width="6.0"/>
<line x1="1579.9" y1="835.8" x2="1606.5" y2="835.8" stroke="#000" stroke-width="6.0" stroke-linecap="round"/>
<line x1="1579.9" y1="956.1" x2="1606.5" y2="956.1" stroke="#000" stroke-width="6.0" stroke-linecap="round"/>
<circle cx="1267.4" cy="203.9" r="14.2" fill="#000"/>
<circle cx="1263.3000000000002" cy="199.70000000000002" r="7.4" fill="url(#hlK)"/>
<circle cx="1430.7" cy="745.5" r="14.2" fill="#000"/>
<circle cx="1426.6000000000001" cy="741.3" r="7.4" fill="url(#hlK)"/>
<circle cx="1593.2" cy="895.5" r="14.2" fill="#000"/>
<circle cx="1589.1000000000001" cy="891.3" r="7.4" fill="url(#hlK)"/>
<line x1="1241.5" y1="24.25" x2="1241.5" y2="1110.35" stroke="#0000c8" stroke-width="4.5"/>
<line x1="1243.75" y1="26.5" x2="1622.15" y2="26.5" stroke="#000" stroke-width="4.5"/>
<line x1="1619.9" y1="24.25" x2="1619.9" y2="1110.35" stroke="#000" stroke-width="4.5"/>
<line x1="1243.75" y1="1108.1" x2="1622.15" y2="1108.1" stroke="#000" stroke-width="4.5"/>
<line x1="1241.5" y1="206.7" x2="1250.5" y2="206.7" stroke="#0000c8" stroke-width="4"/>
<line x1="1619.9" y1="206.7" x2="1609.4" y2="206.7" stroke="#000" stroke-width="4"/>
<line x1="1241.5" y1="447.3" x2="1250.5" y2="447.3" stroke="#0000c8" stroke-width="4"/>
<line x1="1619.9" y1="447.3" x2="1609.4" y2="447.3" stroke="#000" stroke-width="4"/>
<line x1="1241.5" y1="687.8" x2="1250.5" y2="687.8" stroke="#0000c8" stroke-width="4"/>
<line x1="1619.9" y1="687.8" x2="1609.4" y2="687.8" stroke="#000" stroke-width="4"/>
<line x1="1241.5" y1="928.4" x2="1250.5" y2="928.4" stroke="#0000c8" stroke-width="4"/>
<line x1="1619.9" y1="928.4" x2="1609.4" y2="928.4" stroke="#000" stroke-width="4"/>
<line x1="1241.5" y1="86.4" x2="1246.5" y2="86.4" stroke="#0000c8" stroke-width="4"/>
<line x1="1619.9" y1="86.4" x2="1614.9" y2="86.4" stroke="#000" stroke-width="4"/>
<line x1="1241.5" y1="326.9" x2="1246.5" y2="326.9" stroke="#0000c8" stroke-width="4"/>
<line x1="1619.9" y1="326.9" x2="1614.9" y2="326.9" stroke="#000" stroke-width="4"/>
<line x1="1241.5" y1="567.3" x2="1246.5" y2="567.3" stroke="#0000c8" stroke-width="4"/>
<line x1="1619.9" y1="567.3" x2="1614.9" y2="567.3" stroke="#000" stroke-width="4"/>
<line x1="1241.5" y1="808.1" x2="1246.5" y2="808.1" stroke="#0000c8" stroke-width="4"/>
<line x1="1619.9" y1="808.1" x2="1614.9" y2="808.1" stroke="#000" stroke-width="4"/>
<line x1="1241.5" y1="1048.7" x2="1246.5" y2="1048.7" stroke="#0000c8" stroke-width="4"/>
<line x1="1619.9" y1="1048.7" x2="1614.9" y2="1048.7" stroke="#000" stroke-width="4"/>
<line x1="1267.4" y1="1108.1" x2="1267.4" y2="1099.5" stroke="#000" stroke-width="3.6"/>
<line x1="1430.7" y1="1108.1" x2="1430.7" y2="1099.5" stroke="#000" stroke-width="3.6"/>
<line x1="1593.2" y1="1108.1" x2="1593.2" y2="1099.5" stroke="#000" stroke-width="3.6"/>
<text x="1173.99" y="216.60" font-size="32.0" fill="#0000c8" stroke="#0000c8" textLength="56.02" lengthAdjust="spacingAndGlyphs" >0.16</text>
<text x="1173.99" y="457.00" font-size="32.0" fill="#0000c8" stroke="#0000c8" textLength="56.02" lengthAdjust="spacingAndGlyphs" >0.12</text>
<text x="1173.99" y="697.70" font-size="32.0" fill="#0000c8" stroke="#0000c8" textLength="56.02" lengthAdjust="spacingAndGlyphs" >0.08</text>
<text x="1173.99" y="938.30" font-size="32.0" fill="#0000c8" stroke="#0000c8" textLength="56.02" lengthAdjust="spacingAndGlyphs" >0.04</text>
<text x="1627.09" y="216.40" font-size="32.0" fill="#000" stroke="#000" textLength="40.02" lengthAdjust="spacingAndGlyphs" >2.0</text>
<text x="1627.09" y="442.80" font-size="32.0" fill="#000" stroke="#000" textLength="40.02" lengthAdjust="spacingAndGlyphs" >1.5</text>
<text x="1627.09" y="667.70" font-size="32.0" fill="#000" stroke="#000" textLength="40.02" lengthAdjust="spacingAndGlyphs" >1.0</text>
<text x="1627.09" y="892.80" font-size="32.0" fill="#000" stroke="#000" textLength="40.02" lengthAdjust="spacingAndGlyphs" >0.5</text>
<text x="1627.09" y="1118.50" font-size="32.0" fill="#000" stroke="#000" textLength="40.02" lengthAdjust="spacingAndGlyphs" >0.0</text>
<text x="1267.70" y="1144.80" font-size="32" fill="#000" stroke="#000" text-anchor="middle" >1</text>
<text x="1431.00" y="1144.80" font-size="32" fill="#000" stroke="#000" text-anchor="middle" >2</text>
<text x="1593.50" y="1144.80" font-size="32" fill="#000" stroke="#000" text-anchor="middle" >3</text>
<text x="1219.29" y="1176.30" font-size="38.0" fill="#000" stroke="#000" textLength="476.12" lengthAdjust="spacingAndGlyphs" >Number of Graphene Layers</text>
<text x="1628.68" y="66.50" font-size="32.3" fill="#000" stroke="#000" textLength="70.83" lengthAdjust="spacingAndGlyphs" >×10<tspan font-size="22.5" dy="-13">10</tspan></text>
<text transform="translate(1152.80,578.00) rotate(-90)" font-size="37.5" fill="#0000c8" stroke="#0000c8" textLength="125.80" lengthAdjust="spacingAndGlyphs">δ(I<tspan font-size="25" dy="9.5">D</tspan><tspan dy="-9.5">/I</tspan><tspan font-size="25" dy="9.5">G</tspan><tspan dy="-9.5">)</tspan></text>
<text transform="translate(1706.7,599.6) rotate(-90)" font-size="37.5" fill="#000" stroke="#000" textLength="163" lengthAdjust="spacingAndGlyphs">δ<tspan font-style="italic">n</tspan><tspan font-style="italic" font-size="26" dx="1" dy="9">d</tspan><tspan dy="-9"> (nm</tspan><tspan font-size="25" dy="-14.5">-2</tspan><tspan dy="14.5">)</tspan></text>
<line x1="1318" y1="57.4" x2="1404" y2="57.4" stroke="#0000c8" stroke-width="6.5" stroke-linecap="round"/>
<line x1="1318" y1="124.3" x2="1341" y2="124.3" stroke="#000" stroke-width="6.5" stroke-linecap="round"/>
<line x1="1380.5" y1="124.3" x2="1404" y2="124.3" stroke="#000" stroke-width="6.5" stroke-linecap="round"/>
<circle cx="1360.7" cy="57.4" r="14.6" fill="#0000c8"/>
<circle cx="1356.6000000000001" cy="53.199999999999996" r="7.4" fill="url(#hlB)"/>
<circle cx="1360.7" cy="124.3" r="14.6" fill="#000"/>
<circle cx="1356.6000000000001" cy="120.1" r="7.4" fill="url(#hlK)"/>
<text x="1414.60" y="68.50" font-size="37.5" fill="#000" stroke="#000" textLength="124.40" lengthAdjust="spacingAndGlyphs" >δ(I<tspan font-size="25" dy="9.5">D</tspan><tspan dy="-9.5">/I</tspan><tspan font-size="25" dy="9.5">G</tspan><tspan dy="-9.5">)</tspan></text>
<text x="1414.60" y="136.00" font-size="37.5" fill="#000" stroke="#000" textLength="56.40" lengthAdjust="spacingAndGlyphs" >δ<tspan font-style="italic">n</tspan><tspan font-style="italic" font-size="25" dx="2" dy="9">d</tspan></text>
</svg>
</body></html>
